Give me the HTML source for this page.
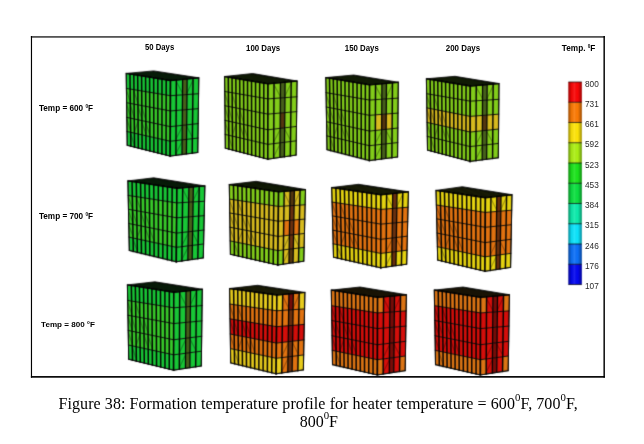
<!DOCTYPE html>
<html lang="en">
<head>
<meta charset="utf-8">
<title>Figure 38: Formation temperature profile</title>
<style>
html,body{margin:0;padding:0;background:#fff;width:644px;height:444px;overflow:hidden}
svg text{white-space:pre}
</style>
</head>
<body>
<svg width="644" height="444" viewBox="0 0 644 444" style="position:absolute;left:0;top:0;display:block">
<defs><filter id="bl" filterUnits="userSpaceOnUse" x="0" y="0" width="644" height="444" color-interpolation-filters="sRGB"><feConvolveMatrix order="3" kernelMatrix="1 5 1 5 25 5 1 5 1" edgeMode="duplicate" preserveAlpha="false"/></filter>
<linearGradient id="sh" x1="0" x2="1" y1="0" y2="0"><stop offset="0" stop-color="#000" stop-opacity="0.42"/><stop offset="0.22" stop-color="#000" stop-opacity="0.06"/><stop offset="0.45" stop-color="#fff" stop-opacity="0.10"/><stop offset="0.7" stop-color="#000" stop-opacity="0.0"/><stop offset="1" stop-color="#000" stop-opacity="0.38"/></linearGradient>
</defs>
<rect x="0" y="0" width="644" height="444" fill="#fff"/>
<rect x="30.9" y="36.0" width="573.95" height="1.8" fill="#555"/>
<rect x="30.9" y="36.0" width="1.15" height="341.7" fill="#000"/>
<rect x="603.45" y="36.0" width="1.45" height="341.7" fill="#000"/>
<rect x="30.9" y="376.05" width="574" height="1.65" fill="#000"/>
<g filter="url(#bl)">
<polygon points="126.20,73.40 153.70,70.90 198.80,77.80 170.50,80.60" fill="#060a04"/>
<path d="M131.52 73.43L152.45 71.52" stroke="#18c636" stroke-width="0.8" stroke-opacity="0.12"/>
<path d="M135.55 74.08L156.54 72.15" stroke="#18c636" stroke-width="0.8" stroke-opacity="0.12"/>
<path d="M139.59 74.73L160.63 72.78" stroke="#18c636" stroke-width="0.8" stroke-opacity="0.12"/>
<path d="M143.63 75.38L164.72 73.41" stroke="#18c636" stroke-width="0.8" stroke-opacity="0.12"/>
<path d="M147.66 76.03L168.81 74.04" stroke="#18c636" stroke-width="0.8" stroke-opacity="0.12"/>
<path d="M151.70 76.68L172.90 74.67" stroke="#18c636" stroke-width="0.8" stroke-opacity="0.12"/>
<path d="M155.73 77.33L176.99 75.30" stroke="#18c636" stroke-width="0.8" stroke-opacity="0.12"/>
<path d="M159.77 77.98L181.08 75.93" stroke="#18c636" stroke-width="0.8" stroke-opacity="0.12"/>
<path d="M163.81 78.64L185.18 76.56" stroke="#18c636" stroke-width="0.8" stroke-opacity="0.12"/>
<path d="M167.84 79.29L189.27 77.19" stroke="#18c636" stroke-width="0.8" stroke-opacity="0.12"/>
<path d="M171.88 79.94L193.36 77.82" stroke="#18c636" stroke-width="0.8" stroke-opacity="0.12"/>
<polygon points="126.20,73.40 129.97,74.01 130.16,89.05 126.41,88.43" fill="#18c636"/>
<polygon points="129.97,74.01 133.79,74.63 133.95,89.68 130.16,89.05" fill="#18c636"/>
<polygon points="133.79,74.63 137.67,75.26 137.80,90.32 133.95,89.68" fill="#18c636"/>
<polygon points="137.67,75.26 141.59,75.90 141.70,90.96 137.80,90.32" fill="#18c636"/>
<polygon points="141.59,75.90 145.57,76.55 145.66,91.61 141.70,90.96" fill="#18c636"/>
<polygon points="145.57,76.55 149.59,77.20 149.66,92.28 145.66,91.61" fill="#18c636"/>
<polygon points="149.59,77.20 153.67,77.87 153.71,92.95 149.66,92.28" fill="#18c636"/>
<polygon points="153.67,77.87 157.80,78.54 157.82,93.62 153.71,92.95" fill="#18c636"/>
<polygon points="157.80,78.54 161.98,79.22 161.97,94.31 157.82,93.62" fill="#18c636"/>
<polygon points="161.98,79.22 166.22,79.90 166.18,95.00 161.97,94.31" fill="#18c636"/>
<polygon points="166.22,79.90 170.50,80.60 170.44,95.70 166.18,95.00" fill="#18c636"/>
<polygon points="126.41,88.43 130.16,89.05 130.33,103.44 126.61,102.74" fill="#38ca2a"/>
<polygon points="130.16,89.05 133.95,89.68 134.11,104.15 130.33,103.44" fill="#38ca2a"/>
<polygon points="133.95,89.68 137.80,90.32 137.94,104.87 134.11,104.15" fill="#38ca2a"/>
<polygon points="137.80,90.32 141.70,90.96 141.81,105.59 137.94,104.87" fill="#38ca2a"/>
<polygon points="141.70,90.96 145.66,91.61 145.74,106.33 141.81,105.59" fill="#38ca2a"/>
<polygon points="145.66,91.61 149.66,92.28 149.72,107.08 145.74,106.33" fill="#38ca2a"/>
<polygon points="149.66,92.28 153.71,92.95 153.75,107.84 149.72,107.08" fill="#38ca2a"/>
<polygon points="153.71,92.95 157.82,93.62 157.83,108.60 153.75,107.84" fill="#38ca2a"/>
<polygon points="157.82,93.62 161.97,94.31 161.96,109.38 157.83,108.60" fill="#38ca2a"/>
<polygon points="161.97,94.31 166.18,95.00 166.15,110.16 161.96,109.38" fill="#38ca2a"/>
<polygon points="166.18,95.00 170.44,95.70 170.38,110.95 166.15,110.16" fill="#38ca2a"/>
<polygon points="126.61,102.74 130.33,103.44 130.52,118.19 126.81,117.40" fill="#38ca2a"/>
<polygon points="130.33,103.44 134.11,104.15 134.27,118.99 130.52,118.19" fill="#38ca2a"/>
<polygon points="134.11,104.15 137.94,104.87 138.07,119.80 134.27,118.99" fill="#38ca2a"/>
<polygon points="137.94,104.87 141.81,105.59 141.93,120.62 138.07,119.80" fill="#38ca2a"/>
<polygon points="141.81,105.59 145.74,106.33 145.83,121.45 141.93,120.62" fill="#38ca2a"/>
<polygon points="145.74,106.33 149.72,107.08 149.79,122.29 145.83,121.45" fill="#38ca2a"/>
<polygon points="149.72,107.08 153.75,107.84 153.79,123.14 149.79,122.29" fill="#38ca2a"/>
<polygon points="153.75,107.84 157.83,108.60 157.85,124.00 153.79,123.14" fill="#38ca2a"/>
<polygon points="157.83,108.60 161.96,109.38 161.95,124.88 157.85,124.00" fill="#38ca2a"/>
<polygon points="161.96,109.38 166.15,110.16 166.11,125.76 161.95,124.88" fill="#38ca2a"/>
<polygon points="166.15,110.16 170.38,110.95 170.32,126.66 166.11,125.76" fill="#38ca2a"/>
<polygon points="126.81,117.40 130.52,118.19 130.69,132.32 127.01,131.50" fill="#38ca2a"/>
<polygon points="130.52,118.19 134.27,118.99 134.42,133.17 130.69,132.32" fill="#38ca2a"/>
<polygon points="134.27,118.99 138.07,119.80 138.20,134.02 134.42,133.17" fill="#38ca2a"/>
<polygon points="138.07,119.80 141.93,120.62 142.03,134.88 138.20,134.02" fill="#38ca2a"/>
<polygon points="141.93,120.62 145.83,121.45 145.92,135.75 142.03,134.88" fill="#38ca2a"/>
<polygon points="145.83,121.45 149.79,122.29 149.85,136.64 145.92,135.75" fill="#38ca2a"/>
<polygon points="149.79,122.29 153.79,123.14 153.83,137.53 149.85,136.64" fill="#38ca2a"/>
<polygon points="153.79,123.14 157.85,124.00 157.86,138.44 153.83,137.53" fill="#38ca2a"/>
<polygon points="157.85,124.00 161.95,124.88 161.94,139.36 157.86,138.44" fill="#38ca2a"/>
<polygon points="161.95,124.88 166.11,125.76 166.08,140.29 161.94,139.36" fill="#38ca2a"/>
<polygon points="166.11,125.76 170.32,126.66 170.26,141.23 166.08,140.29" fill="#38ca2a"/>
<polygon points="127.01,131.50 130.69,132.32 130.86,146.22 127.20,145.30" fill="#18c636"/>
<polygon points="130.69,132.32 134.42,133.17 134.57,147.15 130.86,146.22" fill="#18c636"/>
<polygon points="134.42,133.17 138.20,134.02 138.33,148.10 134.57,147.15" fill="#18c636"/>
<polygon points="138.20,134.02 142.03,134.88 142.14,149.05 138.33,148.10" fill="#18c636"/>
<polygon points="142.03,134.88 145.92,135.75 146.00,150.02 142.14,149.05" fill="#18c636"/>
<polygon points="145.92,135.75 149.85,136.64 149.91,151.00 146.00,150.02" fill="#18c636"/>
<polygon points="149.85,136.64 153.83,137.53 153.87,152.00 149.91,151.00" fill="#18c636"/>
<polygon points="153.83,137.53 157.86,138.44 157.88,153.00 153.87,152.00" fill="#18c636"/>
<polygon points="157.86,138.44 161.94,139.36 161.93,154.02 157.88,153.00" fill="#18c636"/>
<polygon points="161.94,139.36 166.08,140.29 166.04,155.06 161.93,154.02" fill="#18c636"/>
<polygon points="166.08,140.29 170.26,141.23 170.20,156.10 166.04,155.06" fill="#18c636"/>
<path d="M126.20 73.40L127.20 145.30" stroke="#000" stroke-width="1.00" fill="none" stroke-linecap="square"/>
<path d="M129.97 74.01L130.86 146.22M133.79 74.63L134.57 147.15M137.67 75.26L138.33 148.10M141.59 75.90L142.14 149.05M145.57 76.55L146.00 150.02M149.59 77.20L149.91 151.00M153.67 77.87L153.87 152.00M157.80 78.54L157.88 153.00M161.98 79.22L161.93 154.02M166.22 79.90L166.04 155.06M170.50 80.60L170.20 156.10" stroke="#000" stroke-width="1.50" fill="none" stroke-linecap="square"/>
<path d="M126.20 73.40L170.50 80.60M126.41 88.43L170.44 95.70M126.61 102.74L170.38 110.95M126.81 117.40L170.32 126.66M127.01 131.50L170.26 141.23M127.20 145.30L170.20 156.10" stroke="#000" stroke-width="0.90" fill="none" stroke-linecap="square"/>
<polygon points="170.50,80.60 176.36,80.02 176.27,95.29 170.44,95.70" fill="#18c636"/>
<polygon points="176.36,80.02 182.61,79.40 182.49,94.85 176.27,95.29" fill="#18c636"/>
<polygon points="182.61,79.40 187.14,78.95 186.99,94.53 182.49,94.85" fill="#46601a"/>
<polygon points="187.14,78.95 193.06,78.37 192.87,94.12 186.99,94.53" fill="#18c636"/>
<polygon points="193.06,78.37 198.80,77.80 198.59,93.71 192.87,94.12" fill="#18c636"/>
<polygon points="170.44,95.70 176.27,95.29 176.18,110.48 170.38,110.95" fill="#18c636"/>
<polygon points="176.27,95.29 182.49,94.85 182.37,109.97 176.18,110.48" fill="#18c636"/>
<polygon points="182.49,94.85 186.99,94.53 186.85,109.60 182.37,109.97" fill="#46601a"/>
<polygon points="186.99,94.53 192.87,94.12 192.70,109.12 186.85,109.60" fill="#18c636"/>
<polygon points="192.87,94.12 198.59,93.71 198.39,108.65 192.70,109.12" fill="#18c636"/>
<polygon points="170.38,110.95 176.18,110.48 176.09,126.02 170.32,126.66" fill="#18c636"/>
<polygon points="176.18,110.48 182.37,109.97 182.25,125.34 176.09,126.02" fill="#18c636"/>
<polygon points="182.37,109.97 186.85,109.60 186.71,124.85 182.25,125.34" fill="#46601a"/>
<polygon points="186.85,109.60 192.70,109.12 192.53,124.21 186.71,124.85" fill="#18c636"/>
<polygon points="192.70,109.12 198.39,108.65 198.19,123.59 192.53,124.21" fill="#18c636"/>
<polygon points="170.32,126.66 176.09,126.02 176.00,140.58 170.26,141.23" fill="#18c636"/>
<polygon points="176.09,126.02 182.25,125.34 182.13,139.88 176.00,140.58" fill="#18c636"/>
<polygon points="182.25,125.34 186.71,124.85 186.57,139.38 182.13,139.88" fill="#46601a"/>
<polygon points="186.71,124.85 192.53,124.21 192.36,138.72 186.57,139.38" fill="#18c636"/>
<polygon points="192.53,124.21 198.19,123.59 197.99,138.08 192.36,138.72" fill="#18c636"/>
<polygon points="170.26,141.23 176.00,140.58 175.91,155.35 170.20,156.10" fill="#18c636"/>
<polygon points="176.00,140.58 182.13,139.88 182.01,154.56 175.91,155.35" fill="#18c636"/>
<polygon points="182.13,139.88 186.57,139.38 186.43,153.98 182.01,154.56" fill="#46601a"/>
<polygon points="186.57,139.38 192.36,138.72 192.20,153.23 186.43,153.98" fill="#18c636"/>
<polygon points="192.36,138.72 197.99,138.08 197.80,152.50 192.20,153.23" fill="#18c636"/>
<path d="M170.50 80.60L170.20 156.10" stroke="#000" stroke-width="1.50" fill="none" stroke-linecap="square"/>
<path d="M176.36 80.02L175.91 155.35M193.06 78.37L192.20 153.23" stroke="#000" stroke-width="1.45" fill="none" stroke-linecap="square"/>
<path d="M182.61 79.40L182.01 154.56M187.14 78.95L186.43 153.98" stroke="#000" stroke-width="1.25" fill="none" stroke-linecap="square"/>
<path d="M198.80 77.80L197.80 152.50" stroke="#000" stroke-width="1.00" fill="none" stroke-linecap="square"/>
<path d="M170.50 80.60L198.80 77.80M170.44 95.70L198.59 93.71M170.38 110.95L198.39 108.65M170.32 126.66L198.19 123.59M170.26 141.23L197.99 138.08M170.20 156.10L197.80 152.50" stroke="#000" stroke-width="0.90" fill="none" stroke-linecap="square"/>
<path d="M126.43 89.84L130.32 102.01M133.97 91.11L137.92 103.43M126.63 104.15L130.50 116.77M130.35 104.85L134.25 117.56M137.95 106.30L141.92 119.17M141.82 107.04L145.82 120.00M126.83 118.86L130.67 130.86M134.40 131.70L138.09 121.27M141.94 122.10L145.91 134.27M145.84 122.93L149.84 135.15M130.71 133.74L134.56 145.73" stroke="#000" stroke-opacity="0.3" stroke-width="1.2" fill="none"/>
<path d="M176.35 81.55L182.50 93.31M187.01 92.98L193.04 79.94M176.01 139.07L182.23 126.85M186.69 126.36L192.38 137.22M175.92 153.85L182.12 141.37" stroke="#000" stroke-opacity="0.3" stroke-width="1.1" fill="none"/>
<path d="M126.20 73.50L170.50 80.70L198.80 77.90" stroke="#000" stroke-width="1.2" fill="none" stroke-linejoin="round"/>
<polygon points="126.20,73.40 153.70,70.90 198.80,77.80 197.80,152.50 170.20,156.10 127.20,145.30" fill="none" stroke="#000" stroke-width="0.8" stroke-linejoin="round"/>
<polygon points="224.60,76.50 252.60,73.50 297.10,81.00 268.00,83.80" fill="#060a04"/>
<path d="M229.94 76.47L251.26 74.20" stroke="#82cc1a" stroke-width="0.8" stroke-opacity="0.12"/>
<path d="M233.90 77.14L255.29 74.88" stroke="#82cc1a" stroke-width="0.8" stroke-opacity="0.12"/>
<path d="M237.85 77.80L259.32 75.56" stroke="#82cc1a" stroke-width="0.8" stroke-opacity="0.12"/>
<path d="M241.81 78.47L263.36 76.24" stroke="#82cc1a" stroke-width="0.8" stroke-opacity="0.12"/>
<path d="M245.77 79.14L267.39 76.92" stroke="#82cc1a" stroke-width="0.8" stroke-opacity="0.12"/>
<path d="M249.73 79.80L271.42 77.60" stroke="#82cc1a" stroke-width="0.8" stroke-opacity="0.12"/>
<path d="M253.68 80.47L275.46 78.28" stroke="#82cc1a" stroke-width="0.8" stroke-opacity="0.12"/>
<path d="M257.64 81.13L279.49 78.96" stroke="#82cc1a" stroke-width="0.8" stroke-opacity="0.12"/>
<path d="M261.60 81.80L283.52 79.64" stroke="#82cc1a" stroke-width="0.8" stroke-opacity="0.12"/>
<path d="M265.56 82.47L287.56 80.32" stroke="#82cc1a" stroke-width="0.8" stroke-opacity="0.12"/>
<path d="M269.51 83.13L291.59 81.00" stroke="#82cc1a" stroke-width="0.8" stroke-opacity="0.12"/>
<polygon points="224.60,76.50 228.29,77.12 228.42,92.12 224.75,91.49" fill="#82cc1a"/>
<polygon points="228.29,77.12 232.04,77.75 232.15,92.76 228.42,92.12" fill="#82cc1a"/>
<polygon points="232.04,77.75 235.83,78.39 235.93,93.41 232.15,92.76" fill="#82cc1a"/>
<polygon points="235.83,78.39 239.68,79.04 239.76,94.06 235.93,93.41" fill="#82cc1a"/>
<polygon points="239.68,79.04 243.57,79.69 243.64,94.73 239.76,94.06" fill="#82cc1a"/>
<polygon points="243.57,79.69 247.52,80.36 247.57,95.40 243.64,94.73" fill="#82cc1a"/>
<polygon points="247.52,80.36 251.52,81.03 251.54,96.08 247.57,95.40" fill="#82cc1a"/>
<polygon points="251.52,81.03 255.56,81.71 255.57,96.77 251.54,96.08" fill="#82cc1a"/>
<polygon points="255.56,81.71 259.66,82.40 259.65,97.46 255.57,96.77" fill="#82cc1a"/>
<polygon points="259.66,82.40 263.80,83.09 263.78,98.17 259.65,97.46" fill="#82cc1a"/>
<polygon points="263.80,83.09 268.00,83.80 267.96,98.88 263.78,98.17" fill="#82cc1a"/>
<polygon points="224.75,91.49 228.42,92.12 228.55,106.47 224.89,105.75" fill="#82cc1a"/>
<polygon points="228.42,92.12 232.15,92.76 232.26,107.19 228.55,106.47" fill="#82cc1a"/>
<polygon points="232.15,92.76 235.93,93.41 236.02,107.92 232.26,107.19" fill="#82cc1a"/>
<polygon points="235.93,93.41 239.76,94.06 239.84,108.66 236.02,107.92" fill="#82cc1a"/>
<polygon points="239.76,94.06 243.64,94.73 243.70,109.41 239.84,108.66" fill="#82cc1a"/>
<polygon points="243.64,94.73 247.57,95.40 247.61,110.17 243.70,109.41" fill="#82cc1a"/>
<polygon points="247.57,95.40 251.54,96.08 251.57,110.94 247.61,110.17" fill="#82cc1a"/>
<polygon points="251.54,96.08 255.57,96.77 255.58,111.72 251.57,110.94" fill="#82cc1a"/>
<polygon points="255.57,96.77 259.65,97.46 259.65,112.51 255.58,111.72" fill="#82cc1a"/>
<polygon points="259.65,97.46 263.78,98.17 263.76,113.30 259.65,112.51" fill="#82cc1a"/>
<polygon points="263.78,98.17 267.96,98.88 267.92,114.11 263.76,113.30" fill="#82cc1a"/>
<polygon points="224.89,105.75 228.55,106.47 228.68,121.18 225.03,120.38" fill="#82cc1a"/>
<polygon points="228.55,106.47 232.26,107.19 232.37,121.99 228.68,121.18" fill="#82cc1a"/>
<polygon points="232.26,107.19 236.02,107.92 236.12,122.82 232.37,121.99" fill="#82cc1a"/>
<polygon points="236.02,107.92 239.84,108.66 239.92,123.65 236.12,122.82" fill="#82cc1a"/>
<polygon points="239.84,108.66 243.70,109.41 243.76,124.50 239.92,123.65" fill="#82cc1a"/>
<polygon points="243.70,109.41 247.61,110.17 247.66,125.35 243.76,124.50" fill="#82cc1a"/>
<polygon points="247.61,110.17 251.57,110.94 251.60,126.22 247.66,125.35" fill="#82cc1a"/>
<polygon points="251.57,110.94 255.58,111.72 255.60,127.10 251.60,126.22" fill="#82cc1a"/>
<polygon points="255.58,111.72 259.65,112.51 259.64,127.99 255.60,127.10" fill="#82cc1a"/>
<polygon points="259.65,112.51 263.76,113.30 263.73,128.88 259.64,127.99" fill="#82cc1a"/>
<polygon points="263.76,113.30 267.92,114.11 267.88,129.79 263.73,128.88" fill="#82cc1a"/>
<polygon points="225.03,120.38 228.68,121.18 228.80,135.28 225.17,134.43" fill="#82cc1a"/>
<polygon points="228.68,121.18 232.37,121.99 232.48,136.14 228.80,135.28" fill="#82cc1a"/>
<polygon points="232.37,121.99 236.12,122.82 236.21,137.00 232.48,136.14" fill="#82cc1a"/>
<polygon points="236.12,122.82 239.92,123.65 239.99,137.88 236.21,137.00" fill="#82cc1a"/>
<polygon points="239.92,123.65 243.76,124.50 243.82,138.77 239.99,137.88" fill="#82cc1a"/>
<polygon points="243.76,124.50 247.66,125.35 247.70,139.67 243.82,138.77" fill="#82cc1a"/>
<polygon points="247.66,125.35 251.60,126.22 251.63,140.59 247.70,139.67" fill="#82cc1a"/>
<polygon points="251.60,126.22 255.60,127.10 255.61,141.51 251.63,140.59" fill="#82cc1a"/>
<polygon points="255.60,127.10 259.64,127.99 259.64,142.44 255.61,141.51" fill="#82cc1a"/>
<polygon points="259.64,127.99 263.73,128.88 263.71,143.39 259.64,142.44" fill="#82cc1a"/>
<polygon points="263.73,128.88 267.88,129.79 267.84,144.35 263.71,143.39" fill="#82cc1a"/>
<polygon points="225.17,134.43 228.80,135.28 228.92,149.14 225.30,148.20" fill="#82cc1a"/>
<polygon points="228.80,135.28 232.48,136.14 232.58,150.09 228.92,149.14" fill="#82cc1a"/>
<polygon points="232.48,136.14 236.21,137.00 236.30,151.05 232.58,150.09" fill="#82cc1a"/>
<polygon points="236.21,137.00 239.99,137.88 240.07,152.02 236.30,151.05" fill="#82cc1a"/>
<polygon points="239.99,137.88 243.82,138.77 243.88,153.01 240.07,152.02" fill="#82cc1a"/>
<polygon points="243.82,138.77 247.70,139.67 247.74,154.01 243.88,153.01" fill="#82cc1a"/>
<polygon points="247.70,139.67 251.63,140.59 251.66,155.02 247.74,154.01" fill="#82cc1a"/>
<polygon points="251.63,140.59 255.61,141.51 255.62,156.05 251.66,155.02" fill="#82cc1a"/>
<polygon points="255.61,141.51 259.64,142.44 259.63,157.09 255.62,156.05" fill="#82cc1a"/>
<polygon points="259.64,142.44 263.71,143.39 263.69,158.14 259.63,157.09" fill="#82cc1a"/>
<polygon points="263.71,143.39 267.84,144.35 267.80,159.20 263.69,158.14" fill="#82cc1a"/>
<path d="M224.60 76.50L225.30 148.20" stroke="#000" stroke-width="1.00" fill="none" stroke-linecap="square"/>
<path d="M228.29 77.12L228.92 149.14M232.04 77.75L232.58 150.09M235.83 78.39L236.30 151.05M239.68 79.04L240.07 152.02M243.57 79.69L243.88 153.01M247.52 80.36L247.74 154.01M251.52 81.03L251.66 155.02M255.56 81.71L255.62 156.05M259.66 82.40L259.63 157.09M263.80 83.09L263.69 158.14M268.00 83.80L267.80 159.20" stroke="#000" stroke-width="1.50" fill="none" stroke-linecap="square"/>
<path d="M224.60 76.50L268.00 83.80M224.75 91.49L267.96 98.88M224.89 105.75L267.92 114.11M225.03 120.38L267.88 129.79M225.17 134.43L267.84 144.35M225.30 148.20L267.80 159.20" stroke="#000" stroke-width="0.90" fill="none" stroke-linecap="square"/>
<polygon points="268.00,83.80 274.02,83.22 273.95,98.45 267.96,98.88" fill="#82cc1a"/>
<polygon points="274.02,83.22 280.45,82.60 280.34,97.99 273.95,98.45" fill="#82cc1a"/>
<polygon points="280.45,82.60 285.11,82.15 284.97,97.65 280.34,97.99" fill="#46601a"/>
<polygon points="285.11,82.15 291.19,81.57 291.02,97.21 284.97,97.65" fill="#82cc1a"/>
<polygon points="291.19,81.57 297.10,81.00 296.89,96.78 291.02,97.21" fill="#82cc1a"/>
<polygon points="267.96,98.88 273.95,98.45 273.88,113.59 267.92,114.11" fill="#82cc1a"/>
<polygon points="273.95,98.45 280.34,97.99 280.23,113.04 273.88,113.59" fill="#82cc1a"/>
<polygon points="280.34,97.99 284.97,97.65 284.84,112.64 280.23,113.04" fill="#46601a"/>
<polygon points="284.97,97.65 291.02,97.21 290.85,112.11 284.84,112.64" fill="#82cc1a"/>
<polygon points="291.02,97.21 296.89,96.78 296.69,111.60 290.85,112.11" fill="#82cc1a"/>
<polygon points="267.92,114.11 273.88,113.59 273.80,129.10 267.88,129.79" fill="#82cc1a"/>
<polygon points="273.88,113.59 280.23,113.04 280.12,128.35 273.80,129.10" fill="#82cc1a"/>
<polygon points="280.23,113.04 284.84,112.64 284.70,127.81 280.12,128.35" fill="#54360e"/>
<polygon points="284.84,112.64 290.85,112.11 290.68,127.11 284.70,127.81" fill="#82cc1a"/>
<polygon points="290.85,112.11 296.69,111.60 296.49,126.42 290.68,127.11" fill="#82cc1a"/>
<polygon points="267.88,129.79 273.80,129.10 273.73,143.61 267.84,144.35" fill="#82cc1a"/>
<polygon points="273.80,129.10 280.12,128.35 280.02,142.83 273.73,143.61" fill="#82cc1a"/>
<polygon points="280.12,128.35 284.70,127.81 284.57,142.26 280.02,142.83" fill="#46601a"/>
<polygon points="284.70,127.81 290.68,127.11 290.52,141.52 284.57,142.26" fill="#82cc1a"/>
<polygon points="290.68,127.11 296.49,126.42 296.29,140.80 290.52,141.52" fill="#82cc1a"/>
<polygon points="267.84,144.35 273.73,143.61 273.66,158.35 267.80,159.20" fill="#82cc1a"/>
<polygon points="273.73,143.61 280.02,142.83 279.91,157.45 273.66,158.35" fill="#82cc1a"/>
<polygon points="280.02,142.83 284.57,142.26 284.44,156.79 279.91,157.45" fill="#46601a"/>
<polygon points="284.57,142.26 290.52,141.52 290.36,155.93 284.44,156.79" fill="#82cc1a"/>
<polygon points="290.52,141.52 296.29,140.80 296.10,155.10 290.36,155.93" fill="#82cc1a"/>
<path d="M268.00 83.80L267.80 159.20" stroke="#000" stroke-width="1.50" fill="none" stroke-linecap="square"/>
<path d="M274.02 83.22L273.66 158.35M291.19 81.57L290.36 155.93" stroke="#000" stroke-width="1.45" fill="none" stroke-linecap="square"/>
<path d="M280.45 82.60L279.91 157.45M285.11 82.15L284.44 156.79" stroke="#000" stroke-width="1.25" fill="none" stroke-linecap="square"/>
<path d="M297.10 81.00L296.10 155.10" stroke="#000" stroke-width="1.00" fill="none" stroke-linecap="square"/>
<path d="M268.00 83.80L297.10 81.00M267.96 98.88L296.89 96.78M267.92 114.11L296.69 111.60M267.88 129.79L296.49 126.42M267.84 144.35L296.29 140.80M267.80 159.20L296.10 155.10" stroke="#000" stroke-width="0.90" fill="none" stroke-linecap="square"/>
<path d="M224.76 92.90L228.54 105.05M232.16 94.19L236.01 106.48M224.90 107.16L228.66 119.77M228.56 107.88L232.36 120.57M236.03 109.35L239.91 122.21M239.84 110.10L243.76 123.05M225.04 121.84L228.79 133.82M232.47 134.67L236.13 124.29M239.92 125.13L243.81 137.29M243.77 125.98L247.70 138.19M228.81 136.69L232.57 148.67" stroke="#000" stroke-opacity="0.3" stroke-width="1.2" fill="none"/>
<path d="M274.02 84.74L280.35 96.45M284.99 96.10L291.18 83.13M273.74 142.11L280.11 129.85M284.69 129.31L290.53 140.03M273.67 156.85L280.01 144.31" stroke="#000" stroke-opacity="0.3" stroke-width="1.1" fill="none"/>
<path d="M224.60 76.60L268.00 83.90L297.10 81.10" stroke="#000" stroke-width="1.2" fill="none" stroke-linejoin="round"/>
<polygon points="224.60,76.50 252.60,73.50 297.10,81.00 296.10,155.10 267.80,159.20 225.30,148.20" fill="none" stroke="#000" stroke-width="0.8" stroke-linejoin="round"/>
<polygon points="325.80,77.60 353.70,75.00 398.30,82.20 369.60,84.90" fill="#060a04"/>
<path d="M331.14 77.62L352.37 75.64" stroke="#82cc1a" stroke-width="0.8" stroke-opacity="0.12"/>
<path d="M335.13 78.28L356.42 76.30" stroke="#82cc1a" stroke-width="0.8" stroke-opacity="0.12"/>
<path d="M339.12 78.94L360.47 76.95" stroke="#82cc1a" stroke-width="0.8" stroke-opacity="0.12"/>
<path d="M343.11 79.61L364.51 77.61" stroke="#82cc1a" stroke-width="0.8" stroke-opacity="0.12"/>
<path d="M347.11 80.27L368.56 78.26" stroke="#82cc1a" stroke-width="0.8" stroke-opacity="0.12"/>
<path d="M351.10 80.93L372.60 78.92" stroke="#82cc1a" stroke-width="0.8" stroke-opacity="0.12"/>
<path d="M355.09 81.59L376.65 79.57" stroke="#82cc1a" stroke-width="0.8" stroke-opacity="0.12"/>
<path d="M359.08 82.26L380.70 80.23" stroke="#82cc1a" stroke-width="0.8" stroke-opacity="0.12"/>
<path d="M363.07 82.92L384.74 80.88" stroke="#82cc1a" stroke-width="0.8" stroke-opacity="0.12"/>
<path d="M367.06 83.58L388.79 81.54" stroke="#82cc1a" stroke-width="0.8" stroke-opacity="0.12"/>
<path d="M371.05 84.24L392.83 82.20" stroke="#82cc1a" stroke-width="0.8" stroke-opacity="0.12"/>
<polygon points="325.80,77.60 329.53,78.22 329.75,93.30 326.05,92.67" fill="#82cc1a"/>
<polygon points="329.53,78.22 333.31,78.85 333.51,93.94 329.75,93.30" fill="#82cc1a"/>
<polygon points="333.31,78.85 337.14,79.49 337.31,94.58 333.51,93.94" fill="#82cc1a"/>
<polygon points="337.14,79.49 341.02,80.14 341.16,95.24 337.31,94.58" fill="#82cc1a"/>
<polygon points="341.02,80.14 344.95,80.79 345.07,95.90 341.16,95.24" fill="#82cc1a"/>
<polygon points="344.95,80.79 348.93,81.46 349.02,96.57 345.07,95.90" fill="#82cc1a"/>
<polygon points="348.93,81.46 352.96,82.13 353.03,97.25 349.02,96.57" fill="#82cc1a"/>
<polygon points="352.96,82.13 357.05,82.81 357.09,97.93 353.03,97.25" fill="#82cc1a"/>
<polygon points="357.05,82.81 361.18,83.50 361.19,98.63 357.09,97.93" fill="#82cc1a"/>
<polygon points="361.18,83.50 365.36,84.19 365.35,99.33 361.19,98.63" fill="#82cc1a"/>
<polygon points="365.36,84.19 369.60,84.90 369.56,100.04 365.35,99.33" fill="#82cc1a"/>
<polygon points="326.05,92.67 329.75,93.30 329.97,107.73 326.29,107.02" fill="#82cc1a"/>
<polygon points="329.75,93.30 333.51,93.94 333.70,108.45 329.97,107.73" fill="#82cc1a"/>
<polygon points="333.51,93.94 337.31,94.58 337.48,109.17 333.70,108.45" fill="#82cc1a"/>
<polygon points="337.31,94.58 341.16,95.24 341.31,109.91 337.48,109.17" fill="#82cc1a"/>
<polygon points="341.16,95.24 345.07,95.90 345.19,110.66 341.31,109.91" fill="#82cc1a"/>
<polygon points="345.07,95.90 349.02,96.57 349.12,111.41 345.19,110.66" fill="#82cc1a"/>
<polygon points="349.02,96.57 353.03,97.25 353.10,112.18 349.12,111.41" fill="#82cc1a"/>
<polygon points="353.03,97.25 357.09,97.93 357.13,112.95 353.10,112.18" fill="#82cc1a"/>
<polygon points="357.09,97.93 361.19,98.63 361.21,113.74 357.13,112.95" fill="#82cc1a"/>
<polygon points="361.19,98.63 365.35,99.33 365.34,114.53 361.21,113.74" fill="#82cc1a"/>
<polygon points="365.35,99.33 369.56,100.04 369.52,115.33 365.34,114.53" fill="#82cc1a"/>
<polygon points="326.29,107.02 329.97,107.73 330.19,122.52 326.53,121.73" fill="#82cc1a"/>
<polygon points="329.97,107.73 333.70,108.45 333.89,123.33 330.19,122.52" fill="#82cc1a"/>
<polygon points="333.70,108.45 337.48,109.17 337.65,124.15 333.89,123.33" fill="#82cc1a"/>
<polygon points="337.48,109.17 341.31,109.91 341.45,124.98 337.65,124.15" fill="#82cc1a"/>
<polygon points="341.31,109.91 345.19,110.66 345.31,125.82 341.45,124.98" fill="#82cc1a"/>
<polygon points="345.19,110.66 349.12,111.41 349.21,126.67 345.31,125.82" fill="#82cc1a"/>
<polygon points="349.12,111.41 353.10,112.18 353.17,127.53 349.21,126.67" fill="#82cc1a"/>
<polygon points="353.10,112.18 357.13,112.95 357.17,128.40 353.17,127.53" fill="#82cc1a"/>
<polygon points="357.13,112.95 361.21,113.74 361.22,129.28 357.17,128.40" fill="#82cc1a"/>
<polygon points="361.21,113.74 365.34,114.53 365.33,130.17 361.22,129.28" fill="#82cc1a"/>
<polygon points="365.34,114.53 369.52,115.33 369.48,131.08 365.33,130.17" fill="#82cc1a"/>
<polygon points="326.53,121.73 330.19,122.52 330.40,136.69 326.77,135.86" fill="#82cc1a"/>
<polygon points="330.19,122.52 333.89,123.33 334.08,137.54 330.40,136.69" fill="#82cc1a"/>
<polygon points="333.89,123.33 337.65,124.15 337.81,138.40 334.08,137.54" fill="#82cc1a"/>
<polygon points="337.65,124.15 341.45,124.98 341.59,139.28 337.81,138.40" fill="#82cc1a"/>
<polygon points="341.45,124.98 345.31,125.82 345.42,140.16 341.59,139.28" fill="#82cc1a"/>
<polygon points="345.31,125.82 349.21,126.67 349.30,141.05 345.42,140.16" fill="#82cc1a"/>
<polygon points="349.21,126.67 353.17,127.53 353.23,141.96 349.30,141.05" fill="#82cc1a"/>
<polygon points="353.17,127.53 357.17,128.40 357.21,142.87 353.23,141.96" fill="#82cc1a"/>
<polygon points="357.17,128.40 361.22,129.28 361.24,143.80 357.21,142.87" fill="#82cc1a"/>
<polygon points="361.22,129.28 365.33,130.17 365.31,144.74 361.24,143.80" fill="#82cc1a"/>
<polygon points="365.33,130.17 369.48,131.08 369.44,145.69 365.31,144.74" fill="#82cc1a"/>
<polygon points="326.77,135.86 330.40,136.69 330.61,150.63 327.00,149.70" fill="#82cc1a"/>
<polygon points="330.40,136.69 334.08,137.54 334.27,151.57 330.61,150.63" fill="#82cc1a"/>
<polygon points="334.08,137.54 337.81,138.40 337.97,152.52 334.27,151.57" fill="#82cc1a"/>
<polygon points="337.81,138.40 341.59,139.28 341.73,153.49 337.97,152.52" fill="#82cc1a"/>
<polygon points="341.59,139.28 345.42,140.16 345.54,154.47 341.73,153.49" fill="#82cc1a"/>
<polygon points="345.42,140.16 349.30,141.05 349.39,155.46 345.54,154.47" fill="#82cc1a"/>
<polygon points="349.30,141.05 353.23,141.96 353.30,156.46 349.39,155.46" fill="#82cc1a"/>
<polygon points="353.23,141.96 357.21,142.87 357.25,157.48 353.30,156.46" fill="#82cc1a"/>
<polygon points="357.21,142.87 361.24,143.80 361.25,158.50 357.25,157.48" fill="#82cc1a"/>
<polygon points="361.24,143.80 365.31,144.74 365.30,159.55 361.25,158.50" fill="#82cc1a"/>
<polygon points="365.31,144.74 369.44,145.69 369.40,160.60 365.30,159.55" fill="#82cc1a"/>
<path d="M325.80 77.60L327.00 149.70" stroke="#000" stroke-width="1.00" fill="none" stroke-linecap="square"/>
<path d="M329.53 78.22L330.61 150.63M333.31 78.85L334.27 151.57M337.14 79.49L337.97 152.52M341.02 80.14L341.73 153.49M344.95 80.79L345.54 154.47M348.93 81.46L349.39 155.46M352.96 82.13L353.30 156.46M357.05 82.81L357.25 157.48M361.18 83.50L361.25 158.50M365.36 84.19L365.30 159.55M369.60 84.90L369.40 160.60" stroke="#000" stroke-width="1.50" fill="none" stroke-linecap="square"/>
<path d="M325.80 77.60L369.60 84.90M326.05 92.67L369.56 100.04M326.29 107.02L369.52 115.33M326.53 121.73L369.48 131.08M326.77 135.86L369.44 145.69M327.00 149.70L369.40 160.60" stroke="#000" stroke-width="0.90" fill="none" stroke-linecap="square"/>
<polygon points="369.60,84.90 375.54,84.34 375.48,99.65 369.56,100.04" fill="#82cc1a"/>
<polygon points="375.54,84.34 381.88,83.74 381.80,99.23 375.48,99.65" fill="#82cc1a"/>
<polygon points="381.88,83.74 386.48,83.31 386.37,98.92 381.80,99.23" fill="#46601a"/>
<polygon points="386.48,83.31 392.47,82.75 392.35,98.52 386.37,98.92" fill="#82cc1a"/>
<polygon points="392.47,82.75 398.30,82.20 398.15,98.13 392.35,98.52" fill="#82cc1a"/>
<polygon points="369.56,100.04 375.48,99.65 375.42,114.87 369.52,115.33" fill="#82cc1a"/>
<polygon points="375.48,99.65 381.80,99.23 381.72,114.38 375.42,114.87" fill="#82cc1a"/>
<polygon points="381.80,99.23 386.37,98.92 386.27,114.02 381.72,114.38" fill="#46601a"/>
<polygon points="386.37,98.92 392.35,98.52 392.23,113.55 386.27,114.02" fill="#82cc1a"/>
<polygon points="392.35,98.52 398.15,98.13 398.01,113.09 392.23,113.55" fill="#82cc1a"/>
<polygon points="369.52,115.33 375.42,114.87 375.36,130.45 369.48,131.08" fill="#82cc1a"/>
<polygon points="375.42,114.87 381.72,114.38 381.63,129.78 375.36,130.45" fill="#d6ba1e"/>
<polygon points="381.72,114.38 386.27,114.02 386.17,129.30 381.63,129.78" fill="#54360e"/>
<polygon points="386.27,114.02 392.23,113.55 392.11,128.67 386.17,129.30" fill="#d6ba1e"/>
<polygon points="392.23,113.55 398.01,113.09 397.87,128.05 392.11,128.67" fill="#82cc1a"/>
<polygon points="369.48,131.08 375.36,130.45 375.30,145.04 369.44,145.69" fill="#82cc1a"/>
<polygon points="375.36,130.45 381.63,129.78 381.55,144.35 375.30,145.04" fill="#82cc1a"/>
<polygon points="381.63,129.78 386.17,129.30 386.08,143.85 381.55,144.35" fill="#46601a"/>
<polygon points="386.17,129.30 392.11,128.67 391.99,143.20 386.08,143.85" fill="#82cc1a"/>
<polygon points="392.11,128.67 397.87,128.05 397.74,142.56 391.99,143.20" fill="#82cc1a"/>
<polygon points="369.44,145.69 375.30,145.04 375.24,159.85 369.40,160.60" fill="#82cc1a"/>
<polygon points="375.30,145.04 381.55,144.35 381.47,159.06 375.24,159.85" fill="#82cc1a"/>
<polygon points="381.55,144.35 386.08,143.85 385.98,158.48 381.47,159.06" fill="#46601a"/>
<polygon points="386.08,143.85 391.99,143.20 391.88,157.73 385.98,158.48" fill="#82cc1a"/>
<polygon points="391.99,143.20 397.74,142.56 397.60,157.00 391.88,157.73" fill="#82cc1a"/>
<path d="M369.60 84.90L369.40 160.60" stroke="#000" stroke-width="1.50" fill="none" stroke-linecap="square"/>
<path d="M375.54 84.34L375.24 159.85M392.47 82.75L391.88 157.73" stroke="#000" stroke-width="1.45" fill="none" stroke-linecap="square"/>
<path d="M381.88 83.74L381.47 159.06M386.48 83.31L385.98 158.48" stroke="#000" stroke-width="1.25" fill="none" stroke-linecap="square"/>
<path d="M398.30 82.20L397.60 157.00" stroke="#000" stroke-width="1.00" fill="none" stroke-linecap="square"/>
<path d="M369.60 84.90L398.30 82.20M369.56 100.04L398.15 98.13M369.52 115.33L398.01 113.09M369.48 131.08L397.87 128.05M369.44 145.69L397.74 142.56M369.40 160.60L397.60 157.00" stroke="#000" stroke-width="0.90" fill="none" stroke-linecap="square"/>
<path d="M326.07 94.09L329.95 106.30M333.53 95.37L337.46 107.73M326.31 108.43L330.17 121.10M329.99 109.15L333.88 121.90M337.49 110.61L341.44 123.53M341.32 111.36L345.30 124.36M326.56 123.19L330.38 135.23M334.06 136.07L337.67 125.62M341.47 126.46L345.41 138.67M345.32 127.30L349.29 139.56M330.42 138.11L334.25 150.14" stroke="#000" stroke-opacity="0.3" stroke-width="1.2" fill="none"/>
<path d="M375.53 85.87L381.81 97.68M386.38 97.36L392.46 84.33M375.30 143.53L381.62 131.29M386.16 130.81L392.00 141.69M375.24 158.35L381.54 145.84" stroke="#000" stroke-opacity="0.3" stroke-width="1.1" fill="none"/>
<path d="M325.80 77.70L369.60 85.00L398.30 82.30" stroke="#000" stroke-width="1.2" fill="none" stroke-linejoin="round"/>
<polygon points="325.80,77.60 353.70,75.00 398.30,82.20 397.60,157.00 369.40,160.60 327.00,149.70" fill="none" stroke="#000" stroke-width="0.8" stroke-linejoin="round"/>
<polygon points="426.40,78.80 455.00,76.30 499.00,83.50 470.30,86.10" fill="#060a04"/>
<path d="M431.83 78.83L453.57 76.93" stroke="#82cc1a" stroke-width="0.8" stroke-opacity="0.12"/>
<path d="M435.82 79.49L457.57 77.58" stroke="#82cc1a" stroke-width="0.8" stroke-opacity="0.12"/>
<path d="M439.81 80.16L461.57 78.24" stroke="#82cc1a" stroke-width="0.8" stroke-opacity="0.12"/>
<path d="M443.80 80.82L465.56 78.89" stroke="#82cc1a" stroke-width="0.8" stroke-opacity="0.12"/>
<path d="M447.80 81.48L469.56 79.55" stroke="#82cc1a" stroke-width="0.8" stroke-opacity="0.12"/>
<path d="M451.79 82.14L473.56 80.21" stroke="#82cc1a" stroke-width="0.8" stroke-opacity="0.12"/>
<path d="M455.78 82.81L477.56 80.86" stroke="#82cc1a" stroke-width="0.8" stroke-opacity="0.12"/>
<path d="M459.77 83.47L481.56 81.52" stroke="#82cc1a" stroke-width="0.8" stroke-opacity="0.12"/>
<path d="M463.76 84.13L485.56 82.17" stroke="#82cc1a" stroke-width="0.8" stroke-opacity="0.12"/>
<path d="M467.76 84.79L489.56 82.83" stroke="#82cc1a" stroke-width="0.8" stroke-opacity="0.12"/>
<path d="M471.75 85.46L493.56 83.48" stroke="#82cc1a" stroke-width="0.8" stroke-opacity="0.12"/>
<polygon points="426.40,78.80 430.14,79.42 430.34,94.34 426.63,93.70" fill="#82cc1a"/>
<polygon points="430.14,79.42 433.92,80.05 434.11,94.99 430.34,94.34" fill="#82cc1a"/>
<polygon points="433.92,80.05 437.76,80.69 437.92,95.64 434.11,94.99" fill="#82cc1a"/>
<polygon points="437.76,80.69 441.65,81.34 441.79,96.30 437.92,95.64" fill="#82cc1a"/>
<polygon points="441.65,81.34 445.59,81.99 445.70,96.97 441.79,96.30" fill="#82cc1a"/>
<polygon points="445.59,81.99 449.58,82.66 449.67,97.65 445.70,96.97" fill="#82cc1a"/>
<polygon points="449.58,82.66 453.63,83.33 453.69,98.34 449.67,97.65" fill="#82cc1a"/>
<polygon points="453.63,83.33 457.72,84.01 457.75,99.03 453.69,98.34" fill="#82cc1a"/>
<polygon points="457.72,84.01 461.86,84.70 461.87,99.73 457.75,99.03" fill="#82cc1a"/>
<polygon points="461.86,84.70 466.06,85.39 466.04,100.44 461.87,99.73" fill="#82cc1a"/>
<polygon points="466.06,85.39 470.30,86.10 470.26,101.16 466.04,100.44" fill="#82cc1a"/>
<polygon points="426.63,93.70 430.34,94.34 430.54,108.61 426.85,107.89" fill="#82cc1a"/>
<polygon points="430.34,94.34 434.11,94.99 434.28,109.35 430.54,108.61" fill="#82cc1a"/>
<polygon points="434.11,94.99 437.92,95.64 438.07,110.09 434.28,109.35" fill="#82cc1a"/>
<polygon points="437.92,95.64 441.79,96.30 441.92,110.84 438.07,110.09" fill="#82cc1a"/>
<polygon points="441.79,96.30 445.70,96.97 445.81,111.60 441.92,110.84" fill="#82cc1a"/>
<polygon points="445.70,96.97 449.67,97.65 449.75,112.37 445.81,111.60" fill="#82cc1a"/>
<polygon points="449.67,97.65 453.69,98.34 453.74,113.16 449.75,112.37" fill="#82cc1a"/>
<polygon points="453.69,98.34 457.75,99.03 457.79,113.94 453.74,113.16" fill="#82cc1a"/>
<polygon points="457.75,99.03 461.87,99.73 461.88,114.74 457.79,113.94" fill="#82cc1a"/>
<polygon points="461.87,99.73 466.04,100.44 466.03,115.55 461.88,114.74" fill="#82cc1a"/>
<polygon points="466.04,100.44 470.26,101.16 470.22,116.37 466.03,115.55" fill="#82cc1a"/>
<polygon points="426.85,107.89 430.54,108.61 430.74,123.25 427.07,122.44" fill="#d6ba1e"/>
<polygon points="430.54,108.61 434.28,109.35 434.46,124.08 430.74,123.25" fill="#d6ba1e"/>
<polygon points="434.28,109.35 438.07,110.09 438.23,124.92 434.46,124.08" fill="#d6ba1e"/>
<polygon points="438.07,110.09 441.92,110.84 442.05,125.77 438.23,124.92" fill="#d6ba1e"/>
<polygon points="441.92,110.84 445.81,111.60 445.92,126.63 442.05,125.77" fill="#d6ba1e"/>
<polygon points="445.81,111.60 449.75,112.37 449.84,127.51 445.92,126.63" fill="#d6ba1e"/>
<polygon points="449.75,112.37 453.74,113.16 453.80,128.39 449.84,127.51" fill="#d6ba1e"/>
<polygon points="453.74,113.16 457.79,113.94 457.82,129.28 453.80,128.39" fill="#d6ba1e"/>
<polygon points="457.79,113.94 461.88,114.74 461.89,130.19 457.82,129.28" fill="#d6ba1e"/>
<polygon points="461.88,114.74 466.03,115.55 466.01,131.11 461.89,130.19" fill="#d6ba1e"/>
<polygon points="466.03,115.55 470.22,116.37 470.18,132.03 466.01,131.11" fill="#d6ba1e"/>
<polygon points="427.07,122.44 430.74,123.25 430.94,137.28 427.29,136.41" fill="#82cc1a"/>
<polygon points="430.74,123.25 434.46,124.08 434.63,138.15 430.94,137.28" fill="#82cc1a"/>
<polygon points="434.46,124.08 438.23,124.92 438.38,139.04 434.63,138.15" fill="#82cc1a"/>
<polygon points="438.23,124.92 442.05,125.77 442.18,139.94 438.38,139.04" fill="#82cc1a"/>
<polygon points="442.05,125.77 445.92,126.63 446.02,140.86 442.18,139.94" fill="#82cc1a"/>
<polygon points="445.92,126.63 449.84,127.51 449.92,141.78 446.02,140.86" fill="#82cc1a"/>
<polygon points="449.84,127.51 453.80,128.39 453.86,142.71 449.92,141.78" fill="#82cc1a"/>
<polygon points="453.80,128.39 457.82,129.28 457.86,143.66 453.86,142.71" fill="#82cc1a"/>
<polygon points="457.82,129.28 461.89,130.19 461.90,144.62 457.86,143.66" fill="#82cc1a"/>
<polygon points="461.89,130.19 466.01,131.11 466.00,145.59 461.90,144.62" fill="#82cc1a"/>
<polygon points="466.01,131.11 470.18,132.03 470.14,146.57 466.00,145.59" fill="#82cc1a"/>
<polygon points="427.29,136.41 430.94,137.28 431.13,151.06 427.50,150.10" fill="#82cc1a"/>
<polygon points="430.94,137.28 434.63,138.15 434.80,152.04 431.13,151.06" fill="#82cc1a"/>
<polygon points="434.63,138.15 438.38,139.04 438.53,153.02 434.80,152.04" fill="#82cc1a"/>
<polygon points="438.38,139.04 442.18,139.94 442.30,154.03 438.53,153.02" fill="#82cc1a"/>
<polygon points="442.18,139.94 446.02,140.86 446.12,155.04 442.30,154.03" fill="#82cc1a"/>
<polygon points="446.02,140.86 449.92,141.78 450.00,156.07 446.12,155.04" fill="#82cc1a"/>
<polygon points="449.92,141.78 453.86,142.71 453.92,157.11 450.00,156.07" fill="#82cc1a"/>
<polygon points="453.86,142.71 457.86,143.66 457.89,158.16 453.92,157.11" fill="#82cc1a"/>
<polygon points="457.86,143.66 461.90,144.62 461.91,159.23 457.89,158.16" fill="#82cc1a"/>
<polygon points="461.90,144.62 466.00,145.59 465.98,160.31 461.91,159.23" fill="#82cc1a"/>
<polygon points="466.00,145.59 470.14,146.57 470.10,161.40 465.98,160.31" fill="#82cc1a"/>
<path d="M426.40 78.80L427.50 150.10" stroke="#000" stroke-width="1.00" fill="none" stroke-linecap="square"/>
<path d="M430.14 79.42L431.13 151.06M433.92 80.05L434.80 152.04M437.76 80.69L438.53 153.02M441.65 81.34L442.30 154.03M445.59 81.99L446.12 155.04M449.58 82.66L450.00 156.07M453.63 83.33L453.92 157.11M457.72 84.01L457.89 158.16M461.86 84.70L461.91 159.23M466.06 85.39L465.98 160.31M470.30 86.10L470.10 161.40" stroke="#000" stroke-width="1.50" fill="none" stroke-linecap="square"/>
<path d="M426.40 78.80L470.30 86.10M426.63 93.70L470.26 101.16M426.85 107.89L470.22 116.37M427.07 122.44L470.18 132.03M427.29 136.41L470.14 146.57M427.50 150.10L470.10 161.40" stroke="#000" stroke-width="0.90" fill="none" stroke-linecap="square"/>
<polygon points="470.30,86.10 476.24,85.56 476.18,100.78 470.26,101.16" fill="#82cc1a"/>
<polygon points="476.24,85.56 482.58,84.99 482.50,100.38 476.18,100.78" fill="#82cc1a"/>
<polygon points="482.58,84.99 487.18,84.57 487.07,100.08 482.50,100.38" fill="#46601a"/>
<polygon points="487.18,84.57 493.17,84.03 493.05,99.70 487.07,100.08" fill="#82cc1a"/>
<polygon points="493.17,84.03 499.00,83.50 498.85,99.33 493.05,99.70" fill="#82cc1a"/>
<polygon points="470.26,101.16 476.18,100.78 476.12,115.92 470.22,116.37" fill="#82cc1a"/>
<polygon points="476.18,100.78 482.50,100.38 482.42,115.44 476.12,115.92" fill="#82cc1a"/>
<polygon points="482.50,100.38 487.07,100.08 486.97,115.09 482.42,115.44" fill="#46601a"/>
<polygon points="487.07,100.08 493.05,99.70 492.93,114.63 486.97,115.09" fill="#82cc1a"/>
<polygon points="493.05,99.70 498.85,99.33 498.71,114.19 492.93,114.63" fill="#82cc1a"/>
<polygon points="470.22,116.37 476.12,115.92 476.06,131.42 470.18,132.03" fill="#d6ba1e"/>
<polygon points="476.12,115.92 482.42,115.44 482.33,130.76 476.06,131.42" fill="#d6ba1e"/>
<polygon points="482.42,115.44 486.97,115.09 486.87,130.28 482.33,130.76" fill="#54360e"/>
<polygon points="486.97,115.09 492.93,114.63 492.81,129.65 486.87,130.28" fill="#d6ba1e"/>
<polygon points="492.93,114.63 498.71,114.19 498.57,129.05 492.81,129.65" fill="#d6ba1e"/>
<polygon points="470.18,132.03 476.06,131.42 476.00,145.92 470.14,146.57" fill="#82cc1a"/>
<polygon points="476.06,131.42 482.33,130.76 482.25,145.24 476.00,145.92" fill="#82cc1a"/>
<polygon points="482.33,130.76 486.87,130.28 486.78,144.74 482.25,145.24" fill="#46601a"/>
<polygon points="486.87,130.28 492.81,129.65 492.69,144.09 486.78,144.74" fill="#82cc1a"/>
<polygon points="492.81,129.65 498.57,129.05 498.44,143.46 492.69,144.09" fill="#82cc1a"/>
<polygon points="470.14,146.57 476.00,145.92 475.94,160.65 470.10,161.40" fill="#82cc1a"/>
<polygon points="476.00,145.92 482.25,145.24 482.17,159.86 475.94,160.65" fill="#82cc1a"/>
<polygon points="482.25,145.24 486.78,144.74 486.68,159.28 482.17,159.86" fill="#46601a"/>
<polygon points="486.78,144.74 492.69,144.09 492.58,158.53 486.68,159.28" fill="#82cc1a"/>
<polygon points="492.69,144.09 498.44,143.46 498.30,157.80 492.58,158.53" fill="#82cc1a"/>
<path d="M470.30 86.10L470.10 161.40" stroke="#000" stroke-width="1.50" fill="none" stroke-linecap="square"/>
<path d="M476.24 85.56L475.94 160.65M493.17 84.03L492.58 158.53" stroke="#000" stroke-width="1.45" fill="none" stroke-linecap="square"/>
<path d="M482.58 84.99L482.17 159.86M487.18 84.57L486.68 159.28" stroke="#000" stroke-width="1.25" fill="none" stroke-linecap="square"/>
<path d="M499.00 83.50L498.30 157.80" stroke="#000" stroke-width="1.00" fill="none" stroke-linecap="square"/>
<path d="M470.30 86.10L499.00 83.50M470.26 101.16L498.85 99.33M470.22 116.37L498.71 114.19M470.18 132.03L498.57 129.05M470.14 146.57L498.44 143.46M470.10 161.40L498.30 157.80" stroke="#000" stroke-width="0.90" fill="none" stroke-linecap="square"/>
<path d="M426.65 95.11L430.52 107.20M434.12 96.41L438.06 108.66M426.87 109.29L430.72 121.85M430.56 110.02L434.44 122.67M438.09 111.52L442.04 124.34M441.93 112.28L445.91 125.19M427.10 123.88L430.92 135.82M434.61 136.70L438.25 126.38M442.06 127.24L446.01 139.38M445.93 128.11L449.91 140.30M430.96 138.68L434.78 150.63" stroke="#000" stroke-opacity="0.3" stroke-width="1.2" fill="none"/>
<path d="M476.23 87.08L482.51 98.84M487.08 98.53L493.16 85.60M476.00 144.42L482.32 132.26M486.86 131.78L492.70 142.60M475.94 159.16L482.24 146.72" stroke="#000" stroke-opacity="0.3" stroke-width="1.1" fill="none"/>
<path d="M426.40 78.90L470.30 86.20L499.00 83.60" stroke="#000" stroke-width="1.2" fill="none" stroke-linejoin="round"/>
<polygon points="426.40,78.80 455.00,76.30 499.00,83.50 498.30,157.80 470.10,161.40 427.50,150.10" fill="none" stroke="#000" stroke-width="0.8" stroke-linejoin="round"/>
<polygon points="127.90,180.90 153.70,177.80 204.90,185.90 176.90,188.20" fill="#060a04"/>
<path d="M133.24 180.86L152.92 178.54" stroke="#18c636" stroke-width="0.8" stroke-opacity="0.12"/>
<path d="M137.71 181.54L157.55 179.26" stroke="#18c636" stroke-width="0.8" stroke-opacity="0.12"/>
<path d="M142.19 182.21L162.18 179.99" stroke="#18c636" stroke-width="0.8" stroke-opacity="0.12"/>
<path d="M146.67 182.88L166.81 180.72" stroke="#18c636" stroke-width="0.8" stroke-opacity="0.12"/>
<path d="M151.15 183.55L171.44 181.45" stroke="#18c636" stroke-width="0.8" stroke-opacity="0.12"/>
<path d="M155.63 184.23L176.07 182.17" stroke="#18c636" stroke-width="0.8" stroke-opacity="0.12"/>
<path d="M160.11 184.90L180.70 182.90" stroke="#18c636" stroke-width="0.8" stroke-opacity="0.12"/>
<path d="M164.59 185.57L185.33 183.63" stroke="#18c636" stroke-width="0.8" stroke-opacity="0.12"/>
<path d="M169.06 186.24L189.96 184.36" stroke="#18c636" stroke-width="0.8" stroke-opacity="0.12"/>
<path d="M173.54 186.92L194.59 185.08" stroke="#18c636" stroke-width="0.8" stroke-opacity="0.12"/>
<path d="M178.02 187.59L199.22 185.81" stroke="#18c636" stroke-width="0.8" stroke-opacity="0.12"/>
<polygon points="127.90,180.90 132.07,181.52 132.33,196.09 128.19,195.45" fill="#18c636"/>
<polygon points="132.07,181.52 136.30,182.15 136.52,196.73 132.33,196.09" fill="#18c636"/>
<polygon points="136.30,182.15 140.58,182.79 140.77,197.39 136.52,196.73" fill="#18c636"/>
<polygon points="140.58,182.79 144.92,183.44 145.07,198.05 140.77,197.39" fill="#18c636"/>
<polygon points="144.92,183.44 149.32,184.09 149.43,198.72 145.07,198.05" fill="#18c636"/>
<polygon points="149.32,184.09 153.78,184.76 153.85,199.40 149.43,198.72" fill="#18c636"/>
<polygon points="153.78,184.76 158.29,185.43 158.32,200.09 153.85,199.40" fill="#18c636"/>
<polygon points="158.29,185.43 162.86,186.11 162.85,200.79 158.32,200.09" fill="#18c636"/>
<polygon points="162.86,186.11 167.48,186.80 167.44,201.49 162.85,200.79" fill="#18c636"/>
<polygon points="167.48,186.80 172.16,187.49 172.08,202.20 167.44,201.49" fill="#18c636"/>
<polygon points="172.16,187.49 176.90,188.20 176.78,202.92 172.08,202.20" fill="#18c636"/>
<polygon points="128.19,195.45 132.33,196.09 132.57,210.02 128.47,209.30" fill="#38ca2a"/>
<polygon points="132.33,196.09 136.52,196.73 136.73,210.76 132.57,210.02" fill="#38ca2a"/>
<polygon points="136.52,196.73 140.77,197.39 140.94,211.50 136.73,210.76" fill="#38ca2a"/>
<polygon points="140.77,197.39 145.07,198.05 145.21,212.25 140.94,211.50" fill="#38ca2a"/>
<polygon points="145.07,198.05 149.43,198.72 149.54,213.01 145.21,212.25" fill="#38ca2a"/>
<polygon points="149.43,198.72 153.85,199.40 153.92,213.79 149.54,213.01" fill="#38ca2a"/>
<polygon points="153.85,199.40 158.32,200.09 158.35,214.57 153.92,213.79" fill="#38ca2a"/>
<polygon points="158.32,200.09 162.85,200.79 162.85,215.36 158.35,214.57" fill="#38ca2a"/>
<polygon points="162.85,200.79 167.44,201.49 167.39,216.16 162.85,215.36" fill="#38ca2a"/>
<polygon points="167.44,201.49 172.08,202.20 172.00,216.97 167.39,216.16" fill="#38ca2a"/>
<polygon points="172.08,202.20 176.78,202.92 176.66,217.79 172.00,216.97" fill="#38ca2a"/>
<polygon points="128.47,209.30 132.57,210.02 132.82,224.31 128.76,223.50" fill="#38ca2a"/>
<polygon points="132.57,210.02 136.73,210.76 136.95,225.14 132.82,224.31" fill="#38ca2a"/>
<polygon points="136.73,210.76 140.94,211.50 141.12,225.98 136.95,225.14" fill="#38ca2a"/>
<polygon points="140.94,211.50 145.21,212.25 145.36,226.83 141.12,225.98" fill="#38ca2a"/>
<polygon points="145.21,212.25 149.54,213.01 149.64,227.69 145.36,226.83" fill="#38ca2a"/>
<polygon points="149.54,213.01 153.92,213.79 153.99,228.57 149.64,227.69" fill="#38ca2a"/>
<polygon points="153.92,213.79 158.35,214.57 158.39,229.45 153.99,228.57" fill="#38ca2a"/>
<polygon points="158.35,214.57 162.85,215.36 162.84,230.35 158.39,229.45" fill="#38ca2a"/>
<polygon points="162.85,215.36 167.39,216.16 167.35,231.25 162.84,230.35" fill="#38ca2a"/>
<polygon points="167.39,216.16 172.00,216.97 171.91,232.17 167.35,231.25" fill="#38ca2a"/>
<polygon points="172.00,216.97 176.66,217.79 176.53,233.10 171.91,232.17" fill="#38ca2a"/>
<polygon points="128.76,223.50 132.82,224.31 133.06,238.00 129.03,237.14" fill="#38ca2a"/>
<polygon points="132.82,224.31 136.95,225.14 137.15,238.88 133.06,238.00" fill="#38ca2a"/>
<polygon points="136.95,225.14 141.12,225.98 141.30,239.77 137.15,238.88" fill="#38ca2a"/>
<polygon points="141.12,225.98 145.36,226.83 145.49,240.67 141.30,239.77" fill="#38ca2a"/>
<polygon points="145.36,226.83 149.64,227.69 149.75,241.59 145.49,240.67" fill="#38ca2a"/>
<polygon points="149.64,227.69 153.99,228.57 154.05,242.51 149.75,241.59" fill="#38ca2a"/>
<polygon points="153.99,228.57 158.39,229.45 158.42,243.44 154.05,242.51" fill="#38ca2a"/>
<polygon points="158.39,229.45 162.84,230.35 162.83,244.39 158.42,243.44" fill="#38ca2a"/>
<polygon points="162.84,230.35 167.35,231.25 167.31,245.35 162.83,244.39" fill="#38ca2a"/>
<polygon points="167.35,231.25 171.91,232.17 171.84,246.32 167.31,245.35" fill="#38ca2a"/>
<polygon points="171.91,232.17 176.53,233.10 176.42,247.30 171.84,246.32" fill="#38ca2a"/>
<polygon points="129.03,237.14 133.06,238.00 133.30,251.46 129.30,250.50" fill="#18c636"/>
<polygon points="133.06,238.00 137.15,238.88 137.36,252.44 133.30,251.46" fill="#18c636"/>
<polygon points="137.15,238.88 141.30,239.77 141.47,253.42 137.36,252.44" fill="#18c636"/>
<polygon points="141.30,239.77 145.49,240.67 145.63,254.43 141.47,253.42" fill="#18c636"/>
<polygon points="145.49,240.67 149.75,241.59 149.85,255.44 145.63,254.43" fill="#18c636"/>
<polygon points="149.75,241.59 154.05,242.51 154.12,256.47 149.85,255.44" fill="#18c636"/>
<polygon points="154.05,242.51 158.42,243.44 158.45,257.51 154.12,256.47" fill="#18c636"/>
<polygon points="158.42,243.44 162.83,244.39 162.83,258.56 158.45,257.51" fill="#18c636"/>
<polygon points="162.83,244.39 167.31,245.35 167.27,259.63 162.83,258.56" fill="#18c636"/>
<polygon points="167.31,245.35 171.84,246.32 171.76,260.71 167.27,259.63" fill="#18c636"/>
<polygon points="171.84,246.32 176.42,247.30 176.30,261.80 171.76,260.71" fill="#18c636"/>
<path d="M127.90 180.90L129.30 250.50" stroke="#000" stroke-width="1.00" fill="none" stroke-linecap="square"/>
<path d="M132.07 181.52L133.30 251.46M136.30 182.15L137.36 252.44M140.58 182.79L141.47 253.42M144.92 183.44L145.63 254.43M149.32 184.09L149.85 255.44M153.78 184.76L154.12 256.47M158.29 185.43L158.45 257.51M162.86 186.11L162.83 258.56M167.48 186.80L167.27 259.63M172.16 187.49L171.76 260.71M176.90 188.20L176.30 261.80" stroke="#000" stroke-width="1.50" fill="none" stroke-linecap="square"/>
<path d="M127.90 180.90L176.90 188.20M128.19 195.45L176.78 202.92M128.47 209.30L176.66 217.79M128.76 223.50L176.53 233.10M129.03 237.14L176.42 247.30M129.30 250.50L176.30 261.80" stroke="#000" stroke-width="0.90" fill="none" stroke-linecap="square"/>
<polygon points="176.90,188.20 182.70,187.72 182.53,202.57 176.78,202.92" fill="#18c636"/>
<polygon points="182.70,187.72 188.88,187.22 188.67,202.20 182.53,202.57" fill="#18c636"/>
<polygon points="188.88,187.22 193.36,186.85 193.12,201.93 188.67,202.20" fill="#46601a"/>
<polygon points="193.36,186.85 199.22,186.37 198.92,201.58 193.12,201.93" fill="#18c636"/>
<polygon points="199.22,186.37 204.90,185.90 204.56,201.24 198.92,201.58" fill="#18c636"/>
<polygon points="176.78,202.92 182.53,202.57 182.37,217.34 176.66,217.79" fill="#18c636"/>
<polygon points="182.53,202.57 188.67,202.20 188.47,216.87 182.37,217.34" fill="#18c636"/>
<polygon points="188.67,202.20 193.12,201.93 192.88,216.53 188.47,216.87" fill="#46601a"/>
<polygon points="193.12,201.93 198.92,201.58 198.64,216.08 192.88,216.53" fill="#18c636"/>
<polygon points="198.92,201.58 204.56,201.24 204.24,215.64 198.64,216.08" fill="#18c636"/>
<polygon points="176.66,217.79 182.37,217.34 182.20,232.46 176.53,233.10" fill="#18c636"/>
<polygon points="182.37,217.34 188.47,216.87 188.26,231.79 182.20,232.46" fill="#18c636"/>
<polygon points="188.47,216.87 192.88,216.53 192.64,231.30 188.26,231.79" fill="#46601a"/>
<polygon points="192.88,216.53 198.64,216.08 198.36,230.66 192.64,231.30" fill="#18c636"/>
<polygon points="198.64,216.08 204.24,215.64 203.92,230.04 198.36,230.66" fill="#18c636"/>
<polygon points="176.53,233.10 182.20,232.46 182.05,246.62 176.42,247.30" fill="#18c636"/>
<polygon points="182.20,232.46 188.26,231.79 188.06,245.89 182.05,246.62" fill="#18c636"/>
<polygon points="188.26,231.79 192.64,231.30 192.41,245.36 188.06,245.89" fill="#46601a"/>
<polygon points="192.64,231.30 198.36,230.66 198.09,244.67 192.41,245.36" fill="#18c636"/>
<polygon points="198.36,230.66 203.92,230.04 203.61,244.00 198.09,244.67" fill="#18c636"/>
<polygon points="176.42,247.30 182.05,246.62 181.89,260.99 176.30,261.80" fill="#18c636"/>
<polygon points="182.05,246.62 188.06,245.89 187.86,260.13 181.89,260.99" fill="#18c636"/>
<polygon points="188.06,245.89 192.41,245.36 192.18,259.51 187.86,260.13" fill="#46601a"/>
<polygon points="192.41,245.36 198.09,244.67 197.82,258.69 192.18,259.51" fill="#18c636"/>
<polygon points="198.09,244.67 203.61,244.00 203.30,257.90 197.82,258.69" fill="#18c636"/>
<path d="M176.90 188.20L176.30 261.80" stroke="#000" stroke-width="1.50" fill="none" stroke-linecap="square"/>
<path d="M182.70 187.72L181.89 260.99M199.22 186.37L197.82 258.69" stroke="#000" stroke-width="1.45" fill="none" stroke-linecap="square"/>
<path d="M188.88 187.22L187.86 260.13M193.36 186.85L192.18 259.51" stroke="#000" stroke-width="1.25" fill="none" stroke-linecap="square"/>
<path d="M204.90 185.90L203.30 257.90" stroke="#000" stroke-width="1.00" fill="none" stroke-linecap="square"/>
<path d="M176.90 188.20L204.90 185.90M176.78 202.92L204.56 201.24M176.66 217.79L204.24 215.64M176.53 233.10L203.92 230.04M176.42 247.30L203.61 244.00M176.30 261.80L203.30 257.90" stroke="#000" stroke-width="0.90" fill="none" stroke-linecap="square"/>
<path d="M128.22 196.82L132.55 208.64M136.54 198.12L140.92 210.10M128.50 210.66L132.80 222.94M132.60 211.40L136.92 223.76M140.96 212.89L145.34 225.43M145.22 213.65L149.63 226.28M128.79 224.91L133.04 236.58M137.13 237.46L141.14 227.41M145.37 228.27L149.74 240.15M149.65 229.13L154.05 241.06M133.09 239.37L137.34 251.06" stroke="#000" stroke-opacity="0.3" stroke-width="1.2" fill="none"/>
<path d="M182.68 189.21L188.69 200.71M193.14 200.43L199.19 187.89M182.06 245.15L188.23 233.25M192.61 232.76L198.12 243.22M181.91 259.53L188.04 247.34" stroke="#000" stroke-opacity="0.3" stroke-width="1.1" fill="none"/>
<path d="M127.90 181.00L176.90 188.30L204.90 186.00" stroke="#000" stroke-width="1.2" fill="none" stroke-linejoin="round"/>
<polygon points="127.90,180.90 153.70,177.80 204.90,185.90 203.30,257.90 176.30,261.80 129.30,250.50" fill="none" stroke="#000" stroke-width="0.8" stroke-linejoin="round"/>
<polygon points="229.30,184.50 256.10,181.30 305.50,189.50 278.60,191.80" fill="#060a04"/>
<path d="M234.76 184.45L255.13 182.05" stroke="#82cc1a" stroke-width="0.8" stroke-opacity="0.12"/>
<path d="M239.24 185.13L259.62 182.79" stroke="#82cc1a" stroke-width="0.8" stroke-opacity="0.12"/>
<path d="M243.72 185.80L264.11 183.52" stroke="#82cc1a" stroke-width="0.8" stroke-opacity="0.12"/>
<path d="M248.21 186.47L268.60 184.26" stroke="#82cc1a" stroke-width="0.8" stroke-opacity="0.12"/>
<path d="M252.69 187.15L273.09 184.99" stroke="#82cc1a" stroke-width="0.8" stroke-opacity="0.12"/>
<path d="M257.17 187.82L277.58 185.73" stroke="#82cc1a" stroke-width="0.8" stroke-opacity="0.12"/>
<path d="M261.65 188.49L282.07 186.47" stroke="#82cc1a" stroke-width="0.8" stroke-opacity="0.12"/>
<path d="M266.14 189.17L286.56 187.20" stroke="#82cc1a" stroke-width="0.8" stroke-opacity="0.12"/>
<path d="M270.62 189.84L291.05 187.94" stroke="#82cc1a" stroke-width="0.8" stroke-opacity="0.12"/>
<path d="M275.10 190.51L295.54 188.67" stroke="#82cc1a" stroke-width="0.8" stroke-opacity="0.12"/>
<path d="M279.59 191.19L300.03 189.41" stroke="#82cc1a" stroke-width="0.8" stroke-opacity="0.12"/>
<polygon points="229.30,184.50 233.50,185.12 233.69,199.72 229.53,199.09" fill="#82cc1a"/>
<polygon points="233.50,185.12 237.75,185.75 237.91,200.35 233.69,199.72" fill="#82cc1a"/>
<polygon points="237.75,185.75 242.06,186.39 242.19,201.00 237.91,200.35" fill="#82cc1a"/>
<polygon points="242.06,186.39 246.43,187.04 246.52,201.65 242.19,201.00" fill="#82cc1a"/>
<polygon points="246.43,187.04 250.85,187.69 250.91,202.31 246.52,201.65" fill="#82cc1a"/>
<polygon points="250.85,187.69 255.34,188.36 255.36,202.98 250.91,202.31" fill="#82cc1a"/>
<polygon points="255.34,188.36 259.87,189.03 259.86,203.65 255.36,202.98" fill="#82cc1a"/>
<polygon points="259.87,189.03 264.47,189.71 264.42,204.34 259.86,203.65" fill="#82cc1a"/>
<polygon points="264.47,189.71 269.12,190.40 269.04,205.03 264.42,204.34" fill="#82cc1a"/>
<polygon points="269.12,190.40 273.83,191.09 273.71,205.73 269.04,205.03" fill="#82cc1a"/>
<polygon points="273.83,191.09 278.60,191.80 278.44,206.44 273.71,205.73" fill="#82cc1a"/>
<polygon points="229.53,199.09 233.69,199.72 233.88,213.68 229.75,212.98" fill="#d6ba1e"/>
<polygon points="233.69,199.72 237.91,200.35 238.07,214.40 233.88,213.68" fill="#d6ba1e"/>
<polygon points="237.91,200.35 242.19,201.00 242.31,215.12 238.07,214.40" fill="#d6ba1e"/>
<polygon points="242.19,201.00 246.52,201.65 246.61,215.85 242.31,215.12" fill="#d6ba1e"/>
<polygon points="246.52,201.65 250.91,202.31 250.96,216.59 246.61,215.85" fill="#d6ba1e"/>
<polygon points="250.91,202.31 255.36,202.98 255.37,217.34 250.96,216.59" fill="#d6ba1e"/>
<polygon points="255.36,202.98 259.86,203.65 259.84,218.10 255.37,217.34" fill="#d6ba1e"/>
<polygon points="259.86,203.65 264.42,204.34 264.37,218.87 259.84,218.10" fill="#d6ba1e"/>
<polygon points="264.42,204.34 269.04,205.03 268.95,219.64 264.37,218.87" fill="#d6ba1e"/>
<polygon points="269.04,205.03 273.71,205.73 273.58,220.43 268.95,219.64" fill="#d6ba1e"/>
<polygon points="273.71,205.73 278.44,206.44 278.28,221.23 273.58,220.43" fill="#d6ba1e"/>
<polygon points="229.75,212.98 233.88,213.68 234.07,228.00 229.97,227.22" fill="#d6ba1e"/>
<polygon points="233.88,213.68 238.07,214.40 238.22,228.80 234.07,228.00" fill="#d6ba1e"/>
<polygon points="238.07,214.40 242.31,215.12 242.43,229.61 238.22,228.80" fill="#d6ba1e"/>
<polygon points="242.31,215.12 246.61,215.85 246.70,230.43 242.43,229.61" fill="#d6ba1e"/>
<polygon points="246.61,215.85 250.96,216.59 251.02,231.26 246.70,230.43" fill="#d6ba1e"/>
<polygon points="250.96,216.59 255.37,217.34 255.39,232.10 251.02,231.26" fill="#d6ba1e"/>
<polygon points="255.37,217.34 259.84,218.10 259.83,232.95 255.39,232.10" fill="#d6ba1e"/>
<polygon points="259.84,218.10 264.37,218.87 264.31,233.81 259.83,232.95" fill="#d6ba1e"/>
<polygon points="264.37,218.87 268.95,219.64 268.86,234.68 264.31,233.81" fill="#d6ba1e"/>
<polygon points="268.95,219.64 273.58,220.43 273.46,235.56 268.86,234.68" fill="#d6ba1e"/>
<polygon points="273.58,220.43 278.28,221.23 278.11,236.45 273.46,235.56" fill="#d6ba1e"/>
<polygon points="229.97,227.22 234.07,228.00 234.25,241.72 230.19,240.90" fill="#d6ba1e"/>
<polygon points="234.07,228.00 238.22,228.80 238.38,242.56 234.25,241.72" fill="#d6ba1e"/>
<polygon points="238.22,228.80 242.43,229.61 242.55,243.41 238.38,242.56" fill="#d6ba1e"/>
<polygon points="242.43,229.61 246.70,230.43 246.78,244.27 242.55,243.41" fill="#d6ba1e"/>
<polygon points="246.70,230.43 251.02,231.26 251.07,245.14 246.78,244.27" fill="#d6ba1e"/>
<polygon points="251.02,231.26 255.39,232.10 255.41,246.02 251.07,245.14" fill="#d6ba1e"/>
<polygon points="255.39,232.10 259.83,232.95 259.81,246.91 255.41,246.02" fill="#d6ba1e"/>
<polygon points="259.83,232.95 264.31,233.81 264.26,247.81 259.81,246.91" fill="#d6ba1e"/>
<polygon points="264.31,233.81 268.86,234.68 268.77,248.72 264.26,247.81" fill="#d6ba1e"/>
<polygon points="268.86,234.68 273.46,235.56 273.34,249.64 268.77,248.72" fill="#d6ba1e"/>
<polygon points="273.46,235.56 278.11,236.45 277.96,250.58 273.34,249.64" fill="#d6ba1e"/>
<polygon points="230.19,240.90 234.25,241.72 234.43,255.21 230.40,254.30" fill="#82cc1a"/>
<polygon points="234.25,241.72 238.38,242.56 238.52,256.13 234.43,255.21" fill="#82cc1a"/>
<polygon points="238.38,242.56 242.55,243.41 242.67,257.07 238.52,256.13" fill="#82cc1a"/>
<polygon points="242.55,243.41 246.78,244.27 246.87,258.02 242.67,257.07" fill="#82cc1a"/>
<polygon points="246.78,244.27 251.07,245.14 251.12,258.98 246.87,258.02" fill="#82cc1a"/>
<polygon points="251.07,245.14 255.41,246.02 255.43,259.95 251.12,258.98" fill="#82cc1a"/>
<polygon points="255.41,246.02 259.81,246.91 259.80,260.94 255.43,259.95" fill="#82cc1a"/>
<polygon points="259.81,246.91 264.26,247.81 264.21,261.93 259.80,260.94" fill="#82cc1a"/>
<polygon points="264.26,247.81 268.77,248.72 268.69,262.94 264.21,261.93" fill="#82cc1a"/>
<polygon points="268.77,248.72 273.34,249.64 273.22,263.97 268.69,262.94" fill="#82cc1a"/>
<polygon points="273.34,249.64 277.96,250.58 277.80,265.00 273.22,263.97" fill="#82cc1a"/>
<path d="M229.30 184.50L230.40 254.30" stroke="#000" stroke-width="1.00" fill="none" stroke-linecap="square"/>
<path d="M233.50 185.12L234.43 255.21M237.75 185.75L238.52 256.13M242.06 186.39L242.67 257.07M246.43 187.04L246.87 258.02M250.85 187.69L251.12 258.98M255.34 188.36L255.43 259.95M259.87 189.03L259.80 260.94M264.47 189.71L264.21 261.93M269.12 190.40L268.69 262.94M273.83 191.09L273.22 263.97M278.60 191.80L277.80 265.00" stroke="#000" stroke-width="1.50" fill="none" stroke-linecap="square"/>
<path d="M229.30 184.50L278.60 191.80M229.53 199.09L278.44 206.44M229.75 212.98L278.28 221.23M229.97 227.22L278.11 236.45M230.19 240.90L277.96 250.58M230.40 254.30L277.80 265.00" stroke="#000" stroke-width="0.90" fill="none" stroke-linecap="square"/>
<polygon points="278.60,191.80 284.17,191.32 283.97,206.10 278.44,206.44" fill="#82cc1a"/>
<polygon points="284.17,191.32 290.11,190.82 289.87,205.73 283.97,206.10" fill="#d6ba1e"/>
<polygon points="290.11,190.82 294.42,190.45 294.14,205.46 289.87,205.73" fill="#54360e"/>
<polygon points="294.42,190.45 300.04,189.97 299.72,205.11 294.14,205.46" fill="#d6ba1e"/>
<polygon points="300.04,189.97 305.50,189.50 305.14,204.77 299.72,205.11" fill="#82cc1a"/>
<polygon points="278.44,206.44 283.97,206.10 283.77,220.79 278.28,221.23" fill="#d6ba1e"/>
<polygon points="283.97,206.10 289.87,205.73 289.63,220.33 283.77,220.79" fill="#d6ba1e"/>
<polygon points="289.87,205.73 294.14,205.46 293.87,219.99 289.63,220.33" fill="#6a300e"/>
<polygon points="294.14,205.46 299.72,205.11 299.42,219.54 293.87,219.99" fill="#d6ba1e"/>
<polygon points="299.72,205.11 305.14,204.77 304.80,219.11 299.42,219.54" fill="#d6ba1e"/>
<polygon points="278.28,221.23 283.77,220.79 283.57,235.83 278.11,236.45" fill="#d6ba1e"/>
<polygon points="283.77,220.79 289.63,220.33 289.39,235.17 283.57,235.83" fill="#e07210"/>
<polygon points="289.63,220.33 293.87,219.99 293.60,234.69 289.39,235.17" fill="#6a300e"/>
<polygon points="293.87,219.99 299.42,219.54 299.11,234.06 293.60,234.69" fill="#e07210"/>
<polygon points="299.42,219.54 304.80,219.11 304.46,233.45 299.11,234.06" fill="#d6ba1e"/>
<polygon points="278.11,236.45 283.57,235.83 283.38,249.91 277.96,250.58" fill="#d6ba1e"/>
<polygon points="283.57,235.83 289.39,235.17 289.16,249.20 283.38,249.91" fill="#d6ba1e"/>
<polygon points="289.39,235.17 293.60,234.69 293.35,248.69 289.16,249.20" fill="#6a300e"/>
<polygon points="293.60,234.69 299.11,234.06 298.82,248.02 293.35,248.69" fill="#d6ba1e"/>
<polygon points="299.11,234.06 304.46,233.45 304.13,247.36 298.82,248.02" fill="#d6ba1e"/>
<polygon points="277.96,250.58 283.38,249.91 283.18,264.21 277.80,265.00" fill="#82cc1a"/>
<polygon points="283.38,249.91 289.16,249.20 288.93,263.37 283.18,264.21" fill="#d6ba1e"/>
<polygon points="289.16,249.20 293.35,248.69 293.09,262.77 288.93,263.37" fill="#54360e"/>
<polygon points="293.35,248.69 298.82,248.02 298.52,261.97 293.09,262.77" fill="#d6ba1e"/>
<polygon points="298.82,248.02 304.13,247.36 303.80,261.20 298.52,261.97" fill="#82cc1a"/>
<path d="M278.60 191.80L277.80 265.00" stroke="#000" stroke-width="1.50" fill="none" stroke-linecap="square"/>
<path d="M284.17 191.32L283.18 264.21M300.04 189.97L298.52 261.97" stroke="#000" stroke-width="1.45" fill="none" stroke-linecap="square"/>
<path d="M290.11 190.82L288.93 263.37M294.42 190.45L293.09 262.77" stroke="#000" stroke-width="1.25" fill="none" stroke-linecap="square"/>
<path d="M305.50 189.50L303.80 261.20" stroke="#000" stroke-width="1.00" fill="none" stroke-linecap="square"/>
<path d="M278.60 191.80L305.50 189.50M278.44 206.44L305.14 204.77M278.28 221.23L304.80 219.11M278.11 236.45L304.46 233.45M277.96 250.58L304.13 247.36M277.80 265.00L303.80 261.20" stroke="#000" stroke-width="0.90" fill="none" stroke-linecap="square"/>
<path d="M229.55 200.46L233.86 212.30M237.93 201.74L242.30 213.72M229.77 214.35L234.05 226.63M233.90 215.06L238.21 227.42M242.32 216.51L246.69 229.03M246.62 217.25L251.01 229.85M230.00 228.64L234.24 240.30M238.36 241.13L242.45 231.04M246.71 231.86L251.07 243.70M251.02 232.69L255.41 244.57M234.27 243.09L238.51 254.76" stroke="#000" stroke-opacity="0.3" stroke-width="1.2" fill="none"/>
<path d="M284.15 192.80L289.89 204.24M294.17 203.96L300.01 191.48M283.40 248.46L289.36 236.62M293.58 236.14L298.85 246.57M283.20 262.76L289.14 250.64" stroke="#000" stroke-opacity="0.3" stroke-width="1.1" fill="none"/>
<path d="M229.30 184.60L278.60 191.90L305.50 189.60" stroke="#000" stroke-width="1.2" fill="none" stroke-linejoin="round"/>
<polygon points="229.30,184.50 256.10,181.30 305.50,189.50 303.80,261.20 277.80,265.00 230.40,254.30" fill="none" stroke="#000" stroke-width="0.8" stroke-linejoin="round"/>
<polygon points="331.70,187.50 358.50,184.30 408.40,191.80 380.90,194.80" fill="#060a04"/>
<path d="M337.16 187.45L357.55 185.02" stroke="#e4d210" stroke-width="0.8" stroke-opacity="0.12"/>
<path d="M341.64 188.11L362.08 185.70" stroke="#e4d210" stroke-width="0.8" stroke-opacity="0.12"/>
<path d="M346.12 188.78L366.61 186.38" stroke="#e4d210" stroke-width="0.8" stroke-opacity="0.12"/>
<path d="M350.60 189.45L371.13 187.06" stroke="#e4d210" stroke-width="0.8" stroke-opacity="0.12"/>
<path d="M355.08 190.11L375.66 187.74" stroke="#e4d210" stroke-width="0.8" stroke-opacity="0.12"/>
<path d="M359.56 190.78L380.19 188.42" stroke="#e4d210" stroke-width="0.8" stroke-opacity="0.12"/>
<path d="M364.04 191.44L384.72 189.10" stroke="#e4d210" stroke-width="0.8" stroke-opacity="0.12"/>
<path d="M368.52 192.11L389.25 189.78" stroke="#e4d210" stroke-width="0.8" stroke-opacity="0.12"/>
<path d="M373.00 192.78L393.78 190.46" stroke="#e4d210" stroke-width="0.8" stroke-opacity="0.12"/>
<path d="M377.48 193.44L398.31 191.14" stroke="#e4d210" stroke-width="0.8" stroke-opacity="0.12"/>
<path d="M381.96 194.11L402.84 191.82" stroke="#e4d210" stroke-width="0.8" stroke-opacity="0.12"/>
<polygon points="331.70,187.50 335.89,188.12 336.23,202.69 332.08,202.07" fill="#e4d210"/>
<polygon points="335.89,188.12 340.13,188.75 340.44,203.33 336.23,202.69" fill="#e4d210"/>
<polygon points="340.13,188.75 344.44,189.39 344.70,203.97 340.44,203.33" fill="#e4d210"/>
<polygon points="344.44,189.39 348.79,190.04 349.02,204.62 344.70,203.97" fill="#e4d210"/>
<polygon points="348.79,190.04 353.21,190.69 353.40,205.28 349.02,204.62" fill="#e4d210"/>
<polygon points="353.21,190.69 357.68,191.36 357.83,205.95 353.40,205.28" fill="#e4d210"/>
<polygon points="357.68,191.36 362.21,192.03 362.33,206.62 357.83,205.95" fill="#e4d210"/>
<polygon points="362.21,192.03 366.80,192.71 366.87,207.30 362.33,206.62" fill="#e4d210"/>
<polygon points="366.80,192.71 371.44,193.40 371.48,208.00 366.87,207.30" fill="#e4d210"/>
<polygon points="371.44,193.40 376.14,194.09 376.14,208.69 371.48,208.00" fill="#e4d210"/>
<polygon points="376.14,194.09 380.90,194.80 380.86,209.40 376.14,208.69" fill="#e4d210"/>
<polygon points="332.08,202.07 336.23,202.69 336.55,216.64 332.43,215.94" fill="#e07210"/>
<polygon points="336.23,202.69 340.44,203.33 340.73,217.35 336.55,216.64" fill="#e07210"/>
<polygon points="340.44,203.33 344.70,203.97 344.96,218.07 340.73,217.35" fill="#e07210"/>
<polygon points="344.70,203.97 349.02,204.62 349.24,218.79 344.96,218.07" fill="#e07210"/>
<polygon points="349.02,204.62 353.40,205.28 353.58,219.53 349.24,218.79" fill="#e07210"/>
<polygon points="353.40,205.28 357.83,205.95 357.98,220.28 353.58,219.53" fill="#e07210"/>
<polygon points="357.83,205.95 362.33,206.62 362.44,221.03 357.98,220.28" fill="#e07210"/>
<polygon points="362.33,206.62 366.87,207.30 366.95,221.80 362.44,221.03" fill="#e07210"/>
<polygon points="366.87,207.30 371.48,208.00 371.52,222.57 366.95,221.80" fill="#e07210"/>
<polygon points="371.48,208.00 376.14,208.69 376.14,223.35 371.52,222.57" fill="#e07210"/>
<polygon points="376.14,208.69 380.86,209.40 380.82,224.15 376.14,223.35" fill="#e07210"/>
<polygon points="332.43,215.94 336.55,216.64 336.89,230.94 332.80,230.16" fill="#e07210"/>
<polygon points="336.55,216.64 340.73,217.35 341.02,231.73 336.89,230.94" fill="#e07210"/>
<polygon points="340.73,217.35 344.96,218.07 345.22,232.53 341.02,231.73" fill="#e07210"/>
<polygon points="344.96,218.07 349.24,218.79 349.47,233.35 345.22,232.53" fill="#e07210"/>
<polygon points="349.24,218.79 353.58,219.53 353.78,234.17 349.47,233.35" fill="#e07210"/>
<polygon points="353.58,219.53 357.98,220.28 358.14,235.00 353.78,234.17" fill="#e07210"/>
<polygon points="357.98,220.28 362.44,221.03 362.55,235.85 358.14,235.00" fill="#e07210"/>
<polygon points="362.44,221.03 366.95,221.80 367.03,236.70 362.55,235.85" fill="#e07210"/>
<polygon points="366.95,221.80 371.52,222.57 371.55,237.57 367.03,236.70" fill="#e07210"/>
<polygon points="371.52,222.57 376.14,223.35 376.14,238.44 371.55,237.57" fill="#e07210"/>
<polygon points="376.14,223.35 380.82,224.15 380.78,239.33 376.14,238.44" fill="#e07210"/>
<polygon points="332.80,230.16 336.89,230.94 337.20,244.64 333.15,243.82" fill="#e07210"/>
<polygon points="336.89,230.94 341.02,231.73 341.31,245.47 337.20,244.64" fill="#e07210"/>
<polygon points="341.02,231.73 345.22,232.53 345.47,246.31 341.31,245.47" fill="#e07210"/>
<polygon points="345.22,232.53 349.47,233.35 349.68,247.16 345.47,246.31" fill="#e07210"/>
<polygon points="349.47,233.35 353.78,234.17 353.96,248.02 349.68,247.16" fill="#e07210"/>
<polygon points="353.78,234.17 358.14,235.00 358.28,248.89 353.96,248.02" fill="#e07210"/>
<polygon points="358.14,235.00 362.55,235.85 362.66,249.78 358.28,248.89" fill="#e07210"/>
<polygon points="362.55,235.85 367.03,236.70 367.10,250.67 362.66,249.78" fill="#e07210"/>
<polygon points="367.03,236.70 371.55,237.57 371.59,251.58 367.10,250.67" fill="#e07210"/>
<polygon points="371.55,237.57 376.14,238.44 376.14,252.49 371.59,251.58" fill="#e07210"/>
<polygon points="376.14,238.44 380.78,239.33 380.74,253.42 376.14,252.49" fill="#e07210"/>
<polygon points="333.15,243.82 337.20,244.64 337.52,258.10 333.50,257.20" fill="#e4d210"/>
<polygon points="337.20,244.64 341.31,245.47 341.59,259.02 337.52,258.10" fill="#e4d210"/>
<polygon points="341.31,245.47 345.47,246.31 345.72,259.94 341.59,259.02" fill="#e4d210"/>
<polygon points="345.47,246.31 349.68,247.16 349.90,260.88 345.72,259.94" fill="#e4d210"/>
<polygon points="349.68,247.16 353.96,248.02 354.14,261.83 349.90,260.88" fill="#e4d210"/>
<polygon points="353.96,248.02 358.28,248.89 358.43,262.80 354.14,261.83" fill="#e4d210"/>
<polygon points="358.28,248.89 362.66,249.78 362.77,263.77 358.43,262.80" fill="#e4d210"/>
<polygon points="362.66,249.78 367.10,250.67 367.17,264.76 362.77,263.77" fill="#e4d210"/>
<polygon points="367.10,250.67 371.59,251.58 371.63,265.76 367.17,264.76" fill="#e4d210"/>
<polygon points="371.59,251.58 376.14,252.49 376.14,266.78 371.63,265.76" fill="#e4d210"/>
<polygon points="376.14,252.49 380.74,253.42 380.70,267.80 376.14,266.78" fill="#e4d210"/>
<path d="M331.70 187.50L333.50 257.20" stroke="#000" stroke-width="1.00" fill="none" stroke-linecap="square"/>
<path d="M335.89 188.12L337.52 258.10M340.13 188.75L341.59 259.02M344.44 189.39L345.72 259.94M348.79 190.04L349.90 260.88M353.21 190.69L354.14 261.83M357.68 191.36L358.43 262.80M362.21 192.03L362.77 263.77M366.80 192.71L367.17 264.76M371.44 193.40L371.63 265.76M376.14 194.09L376.14 266.78M380.90 194.80L380.70 267.80" stroke="#000" stroke-width="1.50" fill="none" stroke-linecap="square"/>
<path d="M331.70 187.50L380.90 194.80M332.08 202.07L380.86 209.40M332.43 215.94L380.82 224.15M332.80 230.16L380.78 239.33M333.15 243.82L380.74 253.42M333.50 257.20L380.70 267.80" stroke="#000" stroke-width="0.90" fill="none" stroke-linecap="square"/>
<polygon points="380.90,194.80 386.59,194.18 386.49,208.95 380.86,209.40" fill="#e4d210"/>
<polygon points="386.59,194.18 392.67,193.52 392.50,208.47 386.49,208.95" fill="#e4d210"/>
<polygon points="392.67,193.52 397.07,193.04 396.85,208.12 392.50,208.47" fill="#6a300e"/>
<polygon points="397.07,193.04 402.82,192.41 402.52,207.66 396.85,208.12" fill="#e4d210"/>
<polygon points="402.82,192.41 408.40,191.80 408.04,207.22 402.52,207.66" fill="#e4d210"/>
<polygon points="380.86,209.40 386.49,208.95 386.39,223.64 380.82,224.15" fill="#e07210"/>
<polygon points="386.49,208.95 392.50,208.47 392.33,223.10 386.39,223.64" fill="#e07210"/>
<polygon points="392.50,208.47 396.85,208.12 396.63,222.71 392.33,223.10" fill="#6a300e"/>
<polygon points="396.85,208.12 402.52,207.66 402.24,222.20 396.63,222.71" fill="#e07210"/>
<polygon points="402.52,207.66 408.04,207.22 407.70,221.70 402.24,222.20" fill="#e07210"/>
<polygon points="380.82,224.15 386.39,223.64 386.28,238.68 380.78,239.33" fill="#e07210"/>
<polygon points="386.39,223.64 392.33,223.10 392.16,237.98 386.28,238.68" fill="#e07210"/>
<polygon points="392.33,223.10 396.63,222.71 396.41,237.48 392.16,237.98" fill="#6a300e"/>
<polygon points="396.63,222.71 402.24,222.20 401.96,236.82 396.41,237.48" fill="#e07210"/>
<polygon points="402.24,222.20 407.70,221.70 407.36,236.18 401.96,236.82" fill="#e07210"/>
<polygon points="380.78,239.33 386.28,238.68 386.18,252.76 380.74,253.42" fill="#e07210"/>
<polygon points="386.28,238.68 392.16,237.98 391.99,252.05 386.18,252.76" fill="#e07210"/>
<polygon points="392.16,237.98 396.41,237.48 396.20,251.54 391.99,252.05" fill="#6a300e"/>
<polygon points="396.41,237.48 401.96,236.82 401.69,250.88 396.20,251.54" fill="#e07210"/>
<polygon points="401.96,236.82 407.36,236.18 407.03,250.23 401.69,250.88" fill="#e07210"/>
<polygon points="380.74,253.42 386.18,252.76 386.08,267.05 380.70,267.80" fill="#e4d210"/>
<polygon points="386.18,252.76 391.99,252.05 391.83,266.26 386.08,267.05" fill="#e4d210"/>
<polygon points="391.99,252.05 396.20,251.54 395.99,265.68 391.83,266.26" fill="#6a300e"/>
<polygon points="396.20,251.54 401.69,250.88 401.42,264.93 395.99,265.68" fill="#e4d210"/>
<polygon points="401.69,250.88 407.03,250.23 406.70,264.20 401.42,264.93" fill="#e4d210"/>
<path d="M380.90 194.80L380.70 267.80" stroke="#000" stroke-width="1.50" fill="none" stroke-linecap="square"/>
<path d="M386.59 194.18L386.08 267.05M402.82 192.41L401.42 264.93" stroke="#000" stroke-width="1.45" fill="none" stroke-linecap="square"/>
<path d="M392.67 193.52L391.83 266.26M397.07 193.04L395.99 265.68" stroke="#000" stroke-width="1.25" fill="none" stroke-linecap="square"/>
<path d="M408.40 191.80L406.70 264.20" stroke="#000" stroke-width="1.00" fill="none" stroke-linecap="square"/>
<path d="M380.90 194.80L408.40 191.80M380.86 209.40L408.04 207.22M380.82 224.15L407.70 221.70M380.78 239.33L407.36 236.18M380.74 253.42L407.03 250.23M380.70 267.80L406.70 264.20" stroke="#000" stroke-width="0.90" fill="none" stroke-linecap="square"/>
<path d="M332.11 203.44L336.52 215.26M340.46 204.72L344.93 216.67M332.47 217.30L336.85 229.56M336.58 218.01L341.00 230.35M344.98 219.46L349.45 231.95M349.26 220.19L353.76 232.76M332.84 231.57L337.17 243.22M341.28 244.04L345.25 233.96M349.49 234.78L353.94 246.58M353.79 235.60L358.27 247.45M337.24 246.00L341.56 257.64" stroke="#000" stroke-opacity="0.3" stroke-width="1.2" fill="none"/>
<path d="M386.58 195.66L392.51 206.97M396.87 206.61L402.79 193.93M386.19 251.30L392.14 239.44M396.39 238.94L401.72 249.42M386.09 265.60L391.98 253.50" stroke="#000" stroke-opacity="0.3" stroke-width="1.1" fill="none"/>
<path d="M331.70 187.60L380.90 194.90L408.40 191.90" stroke="#000" stroke-width="1.2" fill="none" stroke-linejoin="round"/>
<polygon points="331.70,187.50 358.50,184.30 408.40,191.80 406.70,264.20 380.70,267.80 333.50,257.20" fill="none" stroke="#000" stroke-width="0.8" stroke-linejoin="round"/>
<polygon points="436.00,190.40 462.30,186.70 512.00,194.70 485.40,197.70" fill="#060a04"/>
<path d="M441.40 190.29L461.40 187.50" stroke="#e4d210" stroke-width="0.8" stroke-opacity="0.12"/>
<path d="M445.90 190.96L465.92 188.22" stroke="#e4d210" stroke-width="0.8" stroke-opacity="0.12"/>
<path d="M450.39 191.63L470.43 188.94" stroke="#e4d210" stroke-width="0.8" stroke-opacity="0.12"/>
<path d="M454.89 192.31L474.95 189.66" stroke="#e4d210" stroke-width="0.8" stroke-opacity="0.12"/>
<path d="M459.38 192.98L479.46 190.38" stroke="#e4d210" stroke-width="0.8" stroke-opacity="0.12"/>
<path d="M463.87 193.65L483.98 191.10" stroke="#e4d210" stroke-width="0.8" stroke-opacity="0.12"/>
<path d="M468.37 194.32L488.49 191.82" stroke="#e4d210" stroke-width="0.8" stroke-opacity="0.12"/>
<path d="M472.86 194.99L493.01 192.54" stroke="#e4d210" stroke-width="0.8" stroke-opacity="0.12"/>
<path d="M477.36 195.66L497.52 193.26" stroke="#e4d210" stroke-width="0.8" stroke-opacity="0.12"/>
<path d="M481.85 196.33L502.04 193.98" stroke="#e4d210" stroke-width="0.8" stroke-opacity="0.12"/>
<path d="M486.34 197.00L506.55 194.70" stroke="#e4d210" stroke-width="0.8" stroke-opacity="0.12"/>
<polygon points="436.00,190.40 440.21,191.02 440.52,205.60 436.36,204.97" fill="#e4d210"/>
<polygon points="440.21,191.02 444.47,191.65 444.75,206.25 440.52,205.60" fill="#e4d210"/>
<polygon points="444.47,191.65 448.79,192.29 449.03,206.90 444.75,206.25" fill="#e4d210"/>
<polygon points="448.79,192.29 453.16,192.94 453.36,207.56 449.03,206.90" fill="#e4d210"/>
<polygon points="453.16,192.94 457.60,193.59 457.76,208.23 453.36,207.56" fill="#e4d210"/>
<polygon points="457.60,193.59 462.09,194.26 462.21,208.91 457.76,208.23" fill="#e4d210"/>
<polygon points="462.09,194.26 466.64,194.93 466.72,209.60 462.21,208.91" fill="#e4d210"/>
<polygon points="466.64,194.93 471.24,195.61 471.28,210.29 466.72,209.60" fill="#e4d210"/>
<polygon points="471.24,195.61 475.90,196.30 475.90,210.99 471.28,210.29" fill="#e4d210"/>
<polygon points="475.90,196.30 480.62,196.99 480.58,211.70 475.90,210.99" fill="#e4d210"/>
<polygon points="480.62,196.99 485.40,197.70 485.32,212.42 480.58,211.70" fill="#e4d210"/>
<polygon points="436.36,204.97 440.52,205.60 440.83,219.56 436.69,218.84" fill="#e07210"/>
<polygon points="440.52,205.60 444.75,206.25 445.01,220.29 440.83,219.56" fill="#e07210"/>
<polygon points="444.75,206.25 449.03,206.90 449.26,221.03 445.01,220.29" fill="#e07210"/>
<polygon points="449.03,206.90 453.36,207.56 453.56,221.78 449.26,221.03" fill="#e07210"/>
<polygon points="453.36,207.56 457.76,208.23 457.91,222.54 453.56,221.78" fill="#e07210"/>
<polygon points="457.76,208.23 462.21,208.91 462.33,223.31 457.91,222.54" fill="#e07210"/>
<polygon points="462.21,208.91 466.72,209.60 466.80,224.08 462.33,223.31" fill="#e07210"/>
<polygon points="466.72,209.60 471.28,210.29 471.32,224.87 466.80,224.08" fill="#e07210"/>
<polygon points="471.28,210.29 475.90,210.99 475.91,225.67 471.32,224.87" fill="#e07210"/>
<polygon points="475.90,210.99 480.58,211.70 480.54,226.47 475.91,225.67" fill="#e07210"/>
<polygon points="480.58,211.70 485.32,212.42 485.24,227.29 480.54,226.47" fill="#e07210"/>
<polygon points="436.69,218.84 440.83,219.56 441.14,233.87 437.04,233.06" fill="#e07210"/>
<polygon points="440.83,219.56 445.01,220.29 445.29,234.69 441.14,233.87" fill="#e07210"/>
<polygon points="445.01,220.29 449.26,221.03 449.49,235.53 445.29,234.69" fill="#e07210"/>
<polygon points="449.26,221.03 453.56,221.78 453.76,236.37 449.49,235.53" fill="#e07210"/>
<polygon points="453.56,221.78 457.91,222.54 458.08,237.23 453.76,236.37" fill="#e07210"/>
<polygon points="457.91,222.54 462.33,223.31 462.45,238.10 458.08,237.23" fill="#e07210"/>
<polygon points="462.33,223.31 466.80,224.08 466.88,238.97 462.45,238.10" fill="#e07210"/>
<polygon points="466.80,224.08 471.32,224.87 471.36,239.86 466.88,238.97" fill="#e07210"/>
<polygon points="471.32,224.87 475.91,225.67 475.91,240.76 471.36,239.86" fill="#e07210"/>
<polygon points="475.91,225.67 480.54,226.47 480.50,241.67 475.91,240.76" fill="#e07210"/>
<polygon points="480.54,226.47 485.24,227.29 485.16,242.60 480.50,241.67" fill="#e07210"/>
<polygon points="437.04,233.06 441.14,233.87 441.43,247.58 437.37,246.72" fill="#e07210"/>
<polygon points="441.14,233.87 445.29,234.69 445.55,248.45 441.43,247.58" fill="#e07210"/>
<polygon points="445.29,234.69 449.49,235.53 449.72,249.33 445.55,248.45" fill="#e07210"/>
<polygon points="449.49,235.53 453.76,236.37 453.95,250.23 449.72,249.33" fill="#e07210"/>
<polygon points="453.76,236.37 458.08,237.23 458.23,251.13 453.95,250.23" fill="#e07210"/>
<polygon points="458.08,237.23 462.45,238.10 462.56,252.05 458.23,251.13" fill="#e07210"/>
<polygon points="462.45,238.10 466.88,238.97 466.96,252.98 462.56,252.05" fill="#e07210"/>
<polygon points="466.88,238.97 471.36,239.86 471.40,253.91 466.96,252.98" fill="#e07210"/>
<polygon points="471.36,239.86 475.91,240.76 475.91,254.87 471.40,253.91" fill="#e07210"/>
<polygon points="475.91,240.76 480.50,241.67 480.47,255.83 475.91,254.87" fill="#e07210"/>
<polygon points="480.50,241.67 485.16,242.60 485.08,256.80 480.47,255.83" fill="#e07210"/>
<polygon points="437.37,246.72 441.43,247.58 441.73,261.05 437.70,260.10" fill="#e4d210"/>
<polygon points="441.43,247.58 445.55,248.45 445.81,262.02 441.73,261.05" fill="#e4d210"/>
<polygon points="445.55,248.45 449.72,249.33 449.94,263.00 445.81,262.02" fill="#e4d210"/>
<polygon points="449.72,249.33 453.95,250.23 454.13,263.99 449.94,263.00" fill="#e4d210"/>
<polygon points="453.95,250.23 458.23,251.13 458.38,265.00 454.13,263.99" fill="#e4d210"/>
<polygon points="458.23,251.13 462.56,252.05 462.68,266.01 458.38,265.00" fill="#e4d210"/>
<polygon points="462.56,252.05 466.96,252.98 467.03,267.05 462.68,266.01" fill="#e4d210"/>
<polygon points="466.96,252.98 471.40,253.91 471.44,268.09 467.03,267.05" fill="#e4d210"/>
<polygon points="471.40,253.91 475.91,254.87 475.91,269.15 471.44,268.09" fill="#e4d210"/>
<polygon points="475.91,254.87 480.47,255.83 480.43,270.22 475.91,269.15" fill="#e4d210"/>
<polygon points="480.47,255.83 485.08,256.80 485.00,271.30 480.43,270.22" fill="#e4d210"/>
<path d="M436.00 190.40L437.70 260.10" stroke="#000" stroke-width="1.00" fill="none" stroke-linecap="square"/>
<path d="M440.21 191.02L441.73 261.05M444.47 191.65L445.81 262.02M448.79 192.29L449.94 263.00M453.16 192.94L454.13 263.99M457.60 193.59L458.38 265.00M462.09 194.26L462.68 266.01M466.64 194.93L467.03 267.05M471.24 195.61L471.44 268.09M475.90 196.30L475.91 269.15M480.62 196.99L480.43 270.22M485.40 197.70L485.00 271.30" stroke="#000" stroke-width="1.50" fill="none" stroke-linecap="square"/>
<path d="M436.00 190.40L485.40 197.70M436.36 204.97L485.32 212.42M436.69 218.84L485.24 227.29M437.04 233.06L485.16 242.60M437.37 246.72L485.08 256.80M437.70 260.10L485.00 271.30" stroke="#000" stroke-width="0.90" fill="none" stroke-linecap="square"/>
<polygon points="485.40,197.70 490.91,197.08 490.78,211.96 485.32,212.42" fill="#e4d210"/>
<polygon points="490.91,197.08 496.78,196.42 496.61,211.47 490.78,211.96" fill="#e4d210"/>
<polygon points="496.78,196.42 501.04,195.94 500.84,211.11 496.61,211.47" fill="#6a300e"/>
<polygon points="501.04,195.94 506.60,195.31 506.35,210.64 500.84,211.11" fill="#e4d210"/>
<polygon points="506.60,195.31 512.00,194.70 511.70,210.19 506.35,210.64" fill="#e4d210"/>
<polygon points="485.32,212.42 490.78,211.96 490.66,226.76 485.24,227.29" fill="#e07210"/>
<polygon points="490.78,211.96 496.61,211.47 496.45,226.19 490.66,226.76" fill="#e07210"/>
<polygon points="496.61,211.47 500.84,211.11 500.64,225.78 496.45,226.19" fill="#6a300e"/>
<polygon points="500.84,211.11 506.35,210.64 506.11,225.25 500.64,225.78" fill="#e07210"/>
<polygon points="506.35,210.64 511.70,210.19 511.42,224.73 506.11,225.25" fill="#e07210"/>
<polygon points="485.24,227.29 490.66,226.76 490.54,241.91 485.16,242.60" fill="#e07210"/>
<polygon points="490.66,226.76 496.45,226.19 496.28,241.17 490.54,241.91" fill="#e07210"/>
<polygon points="496.45,226.19 500.64,225.78 500.44,240.64 496.28,241.17" fill="#6a300e"/>
<polygon points="500.64,225.78 506.11,225.25 505.87,239.94 500.44,240.64" fill="#e07210"/>
<polygon points="506.11,225.25 511.42,224.73 511.14,239.27 505.87,239.94" fill="#e07210"/>
<polygon points="485.16,242.60 490.54,241.91 490.42,256.09 485.08,256.80" fill="#e07210"/>
<polygon points="490.54,241.91 496.28,241.17 496.12,255.33 490.42,256.09" fill="#e07210"/>
<polygon points="496.28,241.17 500.44,240.64 500.25,254.78 496.12,255.33" fill="#6a300e"/>
<polygon points="500.44,240.64 505.87,239.94 505.64,254.07 500.25,254.78" fill="#e07210"/>
<polygon points="505.87,239.94 511.14,239.27 510.87,253.37 505.64,254.07" fill="#e07210"/>
<polygon points="485.08,256.80 490.42,256.09 490.30,270.49 485.00,271.30" fill="#e4d210"/>
<polygon points="490.42,256.09 496.12,255.33 495.96,269.63 490.30,270.49" fill="#e4d210"/>
<polygon points="496.12,255.33 500.25,254.78 500.05,269.01 495.96,269.63" fill="#6a300e"/>
<polygon points="500.25,254.78 505.64,254.07 505.40,268.19 500.05,269.01" fill="#e4d210"/>
<polygon points="505.64,254.07 510.87,253.37 510.60,267.40 505.40,268.19" fill="#e4d210"/>
<path d="M485.40 197.70L485.00 271.30" stroke="#000" stroke-width="1.50" fill="none" stroke-linecap="square"/>
<path d="M490.91 197.08L490.30 270.49M506.60 195.31L505.40 268.19" stroke="#000" stroke-width="1.45" fill="none" stroke-linecap="square"/>
<path d="M496.78 196.42L495.96 269.63M501.04 195.94L500.05 269.01" stroke="#000" stroke-width="1.25" fill="none" stroke-linecap="square"/>
<path d="M512.00 194.70L510.60 267.40" stroke="#000" stroke-width="1.00" fill="none" stroke-linecap="square"/>
<path d="M485.40 197.70L512.00 194.70M485.32 212.42L511.70 210.19M485.24 227.29L511.42 224.73M485.16 242.60L511.14 239.27M485.08 256.80L510.87 253.37M485.00 271.30L510.60 267.40" stroke="#000" stroke-width="0.90" fill="none" stroke-linecap="square"/>
<path d="M436.39 206.34L440.80 218.18M444.77 207.64L449.23 219.63M436.73 220.20L441.11 232.49M440.85 220.93L445.26 233.31M449.28 222.42L453.74 234.97M453.58 223.18L458.06 235.82M437.07 234.47L441.40 246.16M445.52 247.02L449.52 236.96M453.78 237.81L458.21 249.69M458.09 238.67L462.55 250.60M441.46 248.95L445.78 260.64" stroke="#000" stroke-opacity="0.3" stroke-width="1.2" fill="none"/>
<path d="M490.89 198.57L496.63 209.96M500.86 209.59L506.58 196.84M490.43 254.62L496.26 242.64M500.42 242.10L505.66 252.60M490.31 269.03L496.10 256.78" stroke="#000" stroke-opacity="0.3" stroke-width="1.1" fill="none"/>
<path d="M436.00 190.50L485.40 197.80L512.00 194.80" stroke="#000" stroke-width="1.2" fill="none" stroke-linejoin="round"/>
<polygon points="436.00,190.40 462.30,186.70 512.00,194.70 510.60,267.40 485.00,271.30 437.70,260.10" fill="none" stroke="#000" stroke-width="0.8" stroke-linejoin="round"/>
<polygon points="127.40,284.90 154.90,281.80 202.30,289.20 173.80,292.20" fill="#060a04"/>
<path d="M132.81 284.86L153.75 282.51" stroke="#18c636" stroke-width="0.8" stroke-opacity="0.12"/>
<path d="M137.04 285.53L158.05 283.18" stroke="#18c636" stroke-width="0.8" stroke-opacity="0.12"/>
<path d="M141.27 286.19L162.35 283.85" stroke="#18c636" stroke-width="0.8" stroke-opacity="0.12"/>
<path d="M145.50 286.85L166.64 284.52" stroke="#18c636" stroke-width="0.8" stroke-opacity="0.12"/>
<path d="M149.73 287.52L170.94 285.19" stroke="#18c636" stroke-width="0.8" stroke-opacity="0.12"/>
<path d="M153.96 288.18L175.24 285.87" stroke="#18c636" stroke-width="0.8" stroke-opacity="0.12"/>
<path d="M158.19 288.85L179.54 286.54" stroke="#18c636" stroke-width="0.8" stroke-opacity="0.12"/>
<path d="M162.42 289.51L183.84 287.21" stroke="#18c636" stroke-width="0.8" stroke-opacity="0.12"/>
<path d="M166.65 290.18L188.13 287.88" stroke="#18c636" stroke-width="0.8" stroke-opacity="0.12"/>
<path d="M170.88 290.84L192.43 288.55" stroke="#18c636" stroke-width="0.8" stroke-opacity="0.12"/>
<path d="M175.11 291.51L196.73 289.22" stroke="#18c636" stroke-width="0.8" stroke-opacity="0.12"/>
<polygon points="127.40,284.90 131.35,285.52 131.59,301.08 127.67,300.45" fill="#18c636"/>
<polygon points="131.35,285.52 135.35,286.15 135.57,301.71 131.59,301.08" fill="#18c636"/>
<polygon points="135.35,286.15 139.41,286.79 139.60,302.36 135.57,301.71" fill="#18c636"/>
<polygon points="139.41,286.79 143.52,287.44 143.68,303.01 139.60,302.36" fill="#18c636"/>
<polygon points="143.52,287.44 147.69,288.09 147.82,303.67 143.68,303.01" fill="#18c636"/>
<polygon points="147.69,288.09 151.90,288.76 152.01,304.34 147.82,303.67" fill="#18c636"/>
<polygon points="151.90,288.76 156.18,289.43 156.25,305.02 152.01,304.34" fill="#18c636"/>
<polygon points="156.18,289.43 160.50,290.11 160.55,305.70 156.25,305.02" fill="#18c636"/>
<polygon points="160.50,290.11 164.88,290.80 164.90,306.39 160.55,305.70" fill="#18c636"/>
<polygon points="164.88,290.80 169.31,291.49 169.30,307.09 164.90,306.39" fill="#18c636"/>
<polygon points="169.31,291.49 173.80,292.20 173.76,307.80 169.30,307.09" fill="#18c636"/>
<polygon points="127.67,300.45 131.59,301.08 131.83,315.96 127.93,315.26" fill="#38ca2a"/>
<polygon points="131.59,301.08 135.57,301.71 135.78,316.68 131.83,315.96" fill="#38ca2a"/>
<polygon points="135.57,301.71 139.60,302.36 139.78,317.41 135.78,316.68" fill="#38ca2a"/>
<polygon points="139.60,302.36 143.68,303.01 143.84,318.14 139.78,317.41" fill="#38ca2a"/>
<polygon points="143.68,303.01 147.82,303.67 147.95,318.89 143.84,318.14" fill="#38ca2a"/>
<polygon points="147.82,303.67 152.01,304.34 152.11,319.64 147.95,318.89" fill="#38ca2a"/>
<polygon points="152.01,304.34 156.25,305.02 156.33,320.41 152.11,319.64" fill="#38ca2a"/>
<polygon points="156.25,305.02 160.55,305.70 160.59,321.18 156.33,320.41" fill="#38ca2a"/>
<polygon points="160.55,305.70 164.90,306.39 164.92,321.96 160.59,321.18" fill="#38ca2a"/>
<polygon points="164.90,306.39 169.30,307.09 169.29,322.76 164.92,321.96" fill="#38ca2a"/>
<polygon points="169.30,307.09 173.76,307.80 173.72,323.56 169.29,322.76" fill="#38ca2a"/>
<polygon points="127.93,315.26 131.83,315.96 132.07,331.23 128.20,330.43" fill="#38ca2a"/>
<polygon points="131.83,315.96 135.78,316.68 135.99,332.04 132.07,331.23" fill="#38ca2a"/>
<polygon points="135.78,316.68 139.78,317.41 139.97,332.85 135.99,332.04" fill="#38ca2a"/>
<polygon points="139.78,317.41 143.84,318.14 144.00,333.68 139.97,332.85" fill="#38ca2a"/>
<polygon points="143.84,318.14 147.95,318.89 148.08,334.52 144.00,333.68" fill="#38ca2a"/>
<polygon points="147.95,318.89 152.11,319.64 152.21,335.37 148.08,334.52" fill="#38ca2a"/>
<polygon points="152.11,319.64 156.33,320.41 156.40,336.23 152.21,335.37" fill="#38ca2a"/>
<polygon points="156.33,320.41 160.59,321.18 160.64,337.10 156.40,336.23" fill="#38ca2a"/>
<polygon points="160.59,321.18 164.92,321.96 164.93,337.98 160.64,337.10" fill="#38ca2a"/>
<polygon points="164.92,321.96 169.29,322.76 169.28,338.88 164.93,337.98" fill="#38ca2a"/>
<polygon points="169.29,322.76 173.72,323.56 173.68,339.78 169.28,338.88" fill="#38ca2a"/>
<polygon points="128.20,330.43 132.07,331.23 132.30,345.85 128.45,345.02" fill="#38ca2a"/>
<polygon points="132.07,331.23 135.99,332.04 136.19,346.70 132.30,345.85" fill="#38ca2a"/>
<polygon points="135.99,332.04 139.97,332.85 140.15,347.56 136.19,346.70" fill="#38ca2a"/>
<polygon points="139.97,332.85 144.00,333.68 144.15,348.43 140.15,347.56" fill="#38ca2a"/>
<polygon points="144.00,333.68 148.08,334.52 148.20,349.31 144.15,348.43" fill="#38ca2a"/>
<polygon points="148.08,334.52 152.21,335.37 152.31,350.20 148.20,349.31" fill="#38ca2a"/>
<polygon points="152.21,335.37 156.40,336.23 156.47,351.11 152.31,350.20" fill="#38ca2a"/>
<polygon points="156.40,336.23 160.64,337.10 160.69,352.02 156.47,351.11" fill="#38ca2a"/>
<polygon points="160.64,337.10 164.93,337.98 164.95,352.95 160.69,352.02" fill="#38ca2a"/>
<polygon points="164.93,337.98 169.28,338.88 169.27,353.89 164.95,352.95" fill="#38ca2a"/>
<polygon points="169.28,338.88 173.68,339.78 173.64,354.83 169.27,353.89" fill="#38ca2a"/>
<polygon points="128.45,345.02 132.30,345.85 132.52,360.23 128.70,359.30" fill="#18c636"/>
<polygon points="132.30,345.85 136.19,346.70 136.40,361.17 132.52,360.23" fill="#18c636"/>
<polygon points="136.19,346.70 140.15,347.56 140.32,362.12 136.40,361.17" fill="#18c636"/>
<polygon points="140.15,347.56 144.15,348.43 144.30,363.09 140.32,362.12" fill="#18c636"/>
<polygon points="144.15,348.43 148.20,349.31 148.33,364.07 144.30,363.09" fill="#18c636"/>
<polygon points="148.20,349.31 152.31,350.20 152.41,365.06 148.33,364.07" fill="#18c636"/>
<polygon points="152.31,350.20 156.47,351.11 156.55,366.06 152.41,365.06" fill="#18c636"/>
<polygon points="156.47,351.11 160.69,352.02 160.73,367.08 156.55,366.06" fill="#18c636"/>
<polygon points="160.69,352.02 164.95,352.95 164.97,368.10 160.73,367.08" fill="#18c636"/>
<polygon points="164.95,352.95 169.27,353.89 169.26,369.15 164.97,368.10" fill="#18c636"/>
<polygon points="169.27,353.89 173.64,354.83 173.60,370.20 169.26,369.15" fill="#18c636"/>
<path d="M127.40 284.90L128.70 359.30" stroke="#000" stroke-width="1.00" fill="none" stroke-linecap="square"/>
<path d="M131.35 285.52L132.52 360.23M135.35 286.15L136.40 361.17M139.41 286.79L140.32 362.12M143.52 287.44L144.30 363.09M147.69 288.09L148.33 364.07M151.90 288.76L152.41 365.06M156.18 289.43L156.55 366.06M160.50 290.11L160.73 367.08M164.88 290.80L164.97 368.10M169.31 291.49L169.26 369.15M173.80 292.20L173.60 370.20" stroke="#000" stroke-width="1.50" fill="none" stroke-linecap="square"/>
<path d="M127.40 284.90L173.80 292.20M127.67 300.45L173.76 307.80M127.93 315.26L173.72 323.56M128.20 330.43L173.68 339.78M128.45 345.02L173.64 354.83M128.70 359.30L173.60 370.20" stroke="#000" stroke-width="0.90" fill="none" stroke-linecap="square"/>
<polygon points="173.80,292.20 179.70,291.58 179.63,307.34 173.76,307.80" fill="#18c636"/>
<polygon points="179.70,291.58 186.00,290.92 185.89,306.84 179.63,307.34" fill="#18c636"/>
<polygon points="186.00,290.92 190.56,290.44 190.42,306.49 185.89,306.84" fill="#46601a"/>
<polygon points="190.56,290.44 196.51,289.81 196.34,306.02 190.42,306.49" fill="#18c636"/>
<polygon points="196.51,289.81 202.30,289.20 202.09,305.56 196.34,306.02" fill="#18c636"/>
<polygon points="173.76,307.80 179.63,307.34 179.55,323.01 173.72,323.56" fill="#18c636"/>
<polygon points="179.63,307.34 185.89,306.84 185.78,322.43 179.55,323.01" fill="#18c636"/>
<polygon points="185.89,306.84 190.42,306.49 190.28,322.01 185.78,322.43" fill="#46601a"/>
<polygon points="190.42,306.49 196.34,306.02 196.17,321.46 190.28,322.01" fill="#18c636"/>
<polygon points="196.34,306.02 202.09,305.56 201.89,320.92 196.17,321.46" fill="#18c636"/>
<polygon points="173.72,323.56 179.55,323.01 179.48,339.06 173.68,339.78" fill="#18c636"/>
<polygon points="179.55,323.01 185.78,322.43 185.67,338.28 179.48,339.06" fill="#18c636"/>
<polygon points="185.78,322.43 190.28,322.01 190.15,337.72 185.67,338.28" fill="#46601a"/>
<polygon points="190.28,322.01 196.17,321.46 196.00,336.99 190.15,337.72" fill="#18c636"/>
<polygon points="196.17,321.46 201.89,320.92 201.69,336.28 196.00,336.99" fill="#18c636"/>
<polygon points="173.68,339.78 179.48,339.06 179.41,354.08 173.64,354.83" fill="#18c636"/>
<polygon points="179.48,339.06 185.67,338.28 185.56,353.27 179.41,354.08" fill="#18c636"/>
<polygon points="185.67,338.28 190.15,337.72 190.02,352.69 185.56,353.27" fill="#46601a"/>
<polygon points="190.15,337.72 196.00,336.99 195.84,351.92 190.02,352.69" fill="#18c636"/>
<polygon points="196.00,336.99 201.69,336.28 201.49,351.18 195.84,351.92" fill="#18c636"/>
<polygon points="173.64,354.83 179.41,354.08 179.33,369.33 173.60,370.20" fill="#18c636"/>
<polygon points="179.41,354.08 185.56,353.27 185.46,368.40 179.33,369.33" fill="#18c636"/>
<polygon points="185.56,353.27 190.02,352.69 189.89,367.73 185.46,368.40" fill="#46601a"/>
<polygon points="190.02,352.69 195.84,351.92 195.68,366.85 189.89,367.73" fill="#18c636"/>
<polygon points="195.84,351.92 201.49,351.18 201.30,366.00 195.68,366.85" fill="#18c636"/>
<path d="M173.80 292.20L173.60 370.20" stroke="#000" stroke-width="1.50" fill="none" stroke-linecap="square"/>
<path d="M179.70 291.58L179.33 369.33M196.51 289.81L195.68 366.85" stroke="#000" stroke-width="1.45" fill="none" stroke-linecap="square"/>
<path d="M186.00 290.92L185.46 368.40M190.56 290.44L189.89 367.73" stroke="#000" stroke-width="1.25" fill="none" stroke-linecap="square"/>
<path d="M202.30 289.20L201.30 366.00" stroke="#000" stroke-width="1.00" fill="none" stroke-linecap="square"/>
<path d="M173.80 292.20L202.30 289.20M173.76 307.80L202.09 305.56M173.72 323.56L201.89 320.92M173.68 339.78L201.69 336.28M173.64 354.83L201.49 351.18M173.60 370.20L201.30 366.00" stroke="#000" stroke-width="0.90" fill="none" stroke-linecap="square"/>
<path d="M127.70 301.92L131.80 314.49M135.59 303.20L139.76 315.92M127.96 316.71L132.04 329.76M131.85 317.43L135.97 330.56M139.80 318.89L143.98 332.19M143.85 319.64L148.07 333.02M128.22 331.94L132.27 344.34M136.17 345.18L139.99 334.38M144.01 335.21L148.19 347.78M148.09 336.05L152.30 348.67M132.32 347.31L136.38 359.70" stroke="#000" stroke-opacity="0.3" stroke-width="1.2" fill="none"/>
<path d="M179.69 293.15L185.90 305.25M190.43 304.88L196.50 291.43M179.41 352.52L185.66 339.84M190.13 339.27L195.86 350.37M179.34 367.78L185.55 354.81" stroke="#000" stroke-opacity="0.3" stroke-width="1.1" fill="none"/>
<path d="M127.40 285.00L173.80 292.30L202.30 289.30" stroke="#000" stroke-width="1.2" fill="none" stroke-linejoin="round"/>
<polygon points="127.40,284.90 154.90,281.80 202.30,289.20 201.30,366.00 173.60,370.20 128.70,359.30" fill="none" stroke="#000" stroke-width="0.8" stroke-linejoin="round"/>
<polygon points="229.60,288.50 257.60,285.30 304.90,292.40 276.90,295.00" fill="#060a04"/>
<path d="M235.11 288.41L256.39 286.00" stroke="#e6ca1c" stroke-width="0.8" stroke-opacity="0.12"/>
<path d="M239.41 289.01L260.69 286.64" stroke="#e6ca1c" stroke-width="0.8" stroke-opacity="0.12"/>
<path d="M243.71 289.61L264.99 287.28" stroke="#e6ca1c" stroke-width="0.8" stroke-opacity="0.12"/>
<path d="M248.01 290.21L269.29 287.92" stroke="#e6ca1c" stroke-width="0.8" stroke-opacity="0.12"/>
<path d="M252.31 290.80L273.59 288.56" stroke="#e6ca1c" stroke-width="0.8" stroke-opacity="0.12"/>
<path d="M256.61 291.40L277.89 289.20" stroke="#e6ca1c" stroke-width="0.8" stroke-opacity="0.12"/>
<path d="M260.91 292.00L282.19 289.84" stroke="#e6ca1c" stroke-width="0.8" stroke-opacity="0.12"/>
<path d="M265.21 292.60L286.49 290.48" stroke="#e6ca1c" stroke-width="0.8" stroke-opacity="0.12"/>
<path d="M269.51 293.19L290.79 291.11" stroke="#e6ca1c" stroke-width="0.8" stroke-opacity="0.12"/>
<path d="M273.81 293.79L295.09 291.75" stroke="#e6ca1c" stroke-width="0.8" stroke-opacity="0.12"/>
<path d="M278.11 294.39L299.39 292.39" stroke="#e6ca1c" stroke-width="0.8" stroke-opacity="0.12"/>
<polygon points="229.60,288.50 233.63,289.05 233.82,304.62 229.83,304.05" fill="#e6ca1c"/>
<polygon points="233.63,289.05 237.71,289.61 237.87,305.21 233.82,304.62" fill="#e6ca1c"/>
<polygon points="237.71,289.61 241.84,290.18 241.97,305.79 237.87,305.21" fill="#e6ca1c"/>
<polygon points="241.84,290.18 246.03,290.76 246.12,306.39 241.97,305.79" fill="#e6ca1c"/>
<polygon points="246.03,290.76 250.28,291.34 250.33,306.99 246.12,306.39" fill="#e6ca1c"/>
<polygon points="250.28,291.34 254.58,291.93 254.60,307.60 250.33,306.99" fill="#e6ca1c"/>
<polygon points="254.58,291.93 258.93,292.53 258.92,308.22 254.60,307.60" fill="#e6ca1c"/>
<polygon points="258.93,292.53 263.34,293.14 263.29,308.84 258.92,308.22" fill="#e6ca1c"/>
<polygon points="263.34,293.14 267.81,293.75 267.72,309.48 263.29,308.84" fill="#e6ca1c"/>
<polygon points="267.81,293.75 272.33,294.37 272.20,310.11 267.72,309.48" fill="#e6ca1c"/>
<polygon points="272.33,294.37 276.90,295.00 276.74,310.76 272.20,310.11" fill="#e6ca1c"/>
<polygon points="229.83,304.05 233.82,304.62 234.01,319.52 230.05,318.86" fill="#e07210"/>
<polygon points="233.82,304.62 237.87,305.21 238.02,320.20 234.01,319.52" fill="#e07210"/>
<polygon points="237.87,305.21 241.97,305.79 242.09,320.89 238.02,320.20" fill="#e07210"/>
<polygon points="241.97,305.79 246.12,306.39 246.21,321.58 242.09,320.89" fill="#e07210"/>
<polygon points="246.12,306.39 250.33,306.99 250.39,322.28 246.21,321.58" fill="#e07210"/>
<polygon points="250.33,306.99 254.60,307.60 254.62,322.99 250.39,322.28" fill="#e07210"/>
<polygon points="254.60,307.60 258.92,308.22 258.90,323.71 254.62,322.99" fill="#e07210"/>
<polygon points="258.92,308.22 263.29,308.84 263.24,324.44 258.90,323.71" fill="#e07210"/>
<polygon points="263.29,308.84 267.72,309.48 267.63,325.18 263.24,324.44" fill="#e07210"/>
<polygon points="267.72,309.48 272.20,310.11 272.08,325.92 267.63,325.18" fill="#e07210"/>
<polygon points="272.20,310.11 276.74,310.76 276.58,326.68 272.08,325.92" fill="#e07210"/>
<polygon points="230.05,318.86 234.01,319.52 234.20,334.80 230.27,334.03" fill="#d40e0a"/>
<polygon points="234.01,319.52 238.02,320.20 238.18,335.58 234.20,334.80" fill="#d40e0a"/>
<polygon points="238.02,320.20 242.09,320.89 242.22,336.37 238.18,335.58" fill="#d40e0a"/>
<polygon points="242.09,320.89 246.21,321.58 246.30,337.17 242.22,336.37" fill="#d40e0a"/>
<polygon points="246.21,321.58 250.39,322.28 250.44,337.99 246.30,337.17" fill="#d40e0a"/>
<polygon points="250.39,322.28 254.62,322.99 254.64,338.81 250.44,337.99" fill="#d40e0a"/>
<polygon points="254.62,322.99 258.90,323.71 258.89,339.64 254.64,338.81" fill="#d40e0a"/>
<polygon points="258.90,323.71 263.24,324.44 263.19,340.48 258.89,339.64" fill="#d40e0a"/>
<polygon points="263.24,324.44 267.63,325.18 267.54,341.33 263.19,340.48" fill="#d40e0a"/>
<polygon points="267.63,325.18 272.08,325.92 271.95,342.20 267.54,341.33" fill="#d40e0a"/>
<polygon points="272.08,325.92 276.58,326.68 276.41,343.07 271.95,342.20" fill="#d40e0a"/>
<polygon points="230.27,334.03 234.20,334.80 234.38,349.44 230.49,348.62" fill="#e07210"/>
<polygon points="234.20,334.80 238.18,335.58 238.33,350.27 234.38,349.44" fill="#e07210"/>
<polygon points="238.18,335.58 242.22,336.37 242.33,351.12 238.33,350.27" fill="#e07210"/>
<polygon points="242.22,336.37 246.30,337.17 246.39,351.98 242.33,351.12" fill="#e07210"/>
<polygon points="246.30,337.17 250.44,337.99 250.50,352.84 246.39,351.98" fill="#e07210"/>
<polygon points="250.44,337.99 254.64,338.81 254.66,353.72 250.50,352.84" fill="#e07210"/>
<polygon points="254.64,338.81 258.89,339.64 258.87,354.61 254.66,353.72" fill="#e07210"/>
<polygon points="258.89,339.64 263.19,340.48 263.14,355.51 258.87,354.61" fill="#e07210"/>
<polygon points="263.19,340.48 267.54,341.33 267.46,356.42 263.14,355.51" fill="#e07210"/>
<polygon points="267.54,341.33 271.95,342.20 271.83,357.34 267.46,356.42" fill="#e07210"/>
<polygon points="271.95,342.20 276.41,343.07 276.26,358.28 271.83,357.34" fill="#e07210"/>
<polygon points="230.49,348.62 234.38,349.44 234.56,363.83 230.70,362.90" fill="#e6ca1c"/>
<polygon points="234.38,349.44 238.33,350.27 238.48,364.77 234.56,363.83" fill="#e6ca1c"/>
<polygon points="238.33,350.27 242.33,351.12 242.45,365.72 238.48,364.77" fill="#e6ca1c"/>
<polygon points="242.33,351.12 246.39,351.98 246.47,366.69 242.45,365.72" fill="#e6ca1c"/>
<polygon points="246.39,351.98 250.50,352.84 250.55,367.67 246.47,366.69" fill="#e6ca1c"/>
<polygon points="250.50,352.84 254.66,353.72 254.68,368.66 250.55,367.67" fill="#e6ca1c"/>
<polygon points="254.66,353.72 258.87,354.61 258.86,369.66 254.68,368.66" fill="#e6ca1c"/>
<polygon points="258.87,354.61 263.14,355.51 263.09,370.68 258.86,369.66" fill="#e6ca1c"/>
<polygon points="263.14,355.51 267.46,356.42 267.37,371.70 263.09,370.68" fill="#e6ca1c"/>
<polygon points="267.46,356.42 271.83,357.34 271.71,372.75 267.37,371.70" fill="#e6ca1c"/>
<polygon points="271.83,357.34 276.26,358.28 276.10,373.80 271.71,372.75" fill="#e6ca1c"/>
<path d="M229.60 288.50L230.70 362.90" stroke="#000" stroke-width="1.00" fill="none" stroke-linecap="square"/>
<path d="M233.63 289.05L234.56 363.83M237.71 289.61L238.48 364.77M241.84 290.18L242.45 365.72M246.03 290.76L246.47 366.69M250.28 291.34L250.55 367.67M254.58 291.93L254.68 368.66M258.93 292.53L258.86 369.66M263.34 293.14L263.09 370.68M267.81 293.75L267.37 371.70M272.33 294.37L271.71 372.75M276.90 295.00L276.10 373.80" stroke="#000" stroke-width="1.50" fill="none" stroke-linecap="square"/>
<path d="M229.60 288.50L276.90 295.00M229.83 304.05L276.74 310.76M230.05 318.86L276.58 326.68M230.27 334.03L276.41 343.07M230.49 348.62L276.26 358.28M230.70 362.90L276.10 373.80" stroke="#000" stroke-width="0.90" fill="none" stroke-linecap="square"/>
<polygon points="276.90,295.00 282.70,294.46 282.50,310.38 276.74,310.76" fill="#e6ca1c"/>
<polygon points="282.70,294.46 288.88,293.89 288.66,309.97 282.50,310.38" fill="#e07210"/>
<polygon points="288.88,293.89 293.36,293.47 293.11,309.67 288.66,309.97" fill="#760c08"/>
<polygon points="293.36,293.47 299.22,292.93 298.93,309.29 293.11,309.67" fill="#e07210"/>
<polygon points="299.22,292.93 304.90,292.40 304.58,308.91 298.93,309.29" fill="#e6ca1c"/>
<polygon points="276.74,310.76 282.50,310.38 282.31,326.21 276.58,326.68" fill="#e07210"/>
<polygon points="282.50,310.38 288.66,309.97 288.44,325.71 282.31,326.21" fill="#e07210"/>
<polygon points="288.66,309.97 293.11,309.67 292.87,325.35 288.44,325.71" fill="#6a300e"/>
<polygon points="293.11,309.67 298.93,309.29 298.66,324.87 292.87,325.35" fill="#e07210"/>
<polygon points="298.93,309.29 304.58,308.91 304.28,324.41 298.66,324.87" fill="#e07210"/>
<polygon points="276.58,326.68 282.31,326.21 282.12,342.41 276.41,343.07" fill="#d40e0a"/>
<polygon points="282.31,326.21 288.44,325.71 288.21,341.72 282.12,342.41" fill="#d40e0a"/>
<polygon points="288.44,325.71 292.87,325.35 292.62,341.21 288.21,341.72" fill="#760c08"/>
<polygon points="292.87,325.35 298.66,324.87 298.38,340.55 292.62,341.21" fill="#d40e0a"/>
<polygon points="298.66,324.87 304.28,324.41 303.98,339.91 298.38,340.55" fill="#d40e0a"/>
<polygon points="276.41,343.07 282.12,342.41 281.94,357.59 276.26,358.28" fill="#e07210"/>
<polygon points="282.12,342.41 288.21,341.72 288.00,356.85 281.94,357.59" fill="#e07210"/>
<polygon points="288.21,341.72 292.62,341.21 292.39,356.32 288.00,356.85" fill="#6a300e"/>
<polygon points="292.62,341.21 298.38,340.55 298.12,355.62 292.39,356.32" fill="#e07210"/>
<polygon points="298.38,340.55 303.98,339.91 303.69,354.94 298.12,355.62" fill="#e07210"/>
<polygon points="276.26,358.28 281.94,357.59 281.75,372.99 276.10,373.80" fill="#e6ca1c"/>
<polygon points="281.94,357.59 288.00,356.85 287.78,372.13 281.75,372.99" fill="#e07210"/>
<polygon points="288.00,356.85 292.39,356.32 292.15,371.51 287.78,372.13" fill="#6a300e"/>
<polygon points="292.39,356.32 298.12,355.62 297.86,370.69 292.15,371.51" fill="#e07210"/>
<polygon points="298.12,355.62 303.69,354.94 303.40,369.90 297.86,370.69" fill="#e6ca1c"/>
<path d="M276.90 295.00L276.10 373.80" stroke="#000" stroke-width="1.50" fill="none" stroke-linecap="square"/>
<path d="M282.70 294.46L281.75 372.99M299.22 292.93L297.86 370.69" stroke="#000" stroke-width="1.45" fill="none" stroke-linecap="square"/>
<path d="M288.88 293.89L287.78 372.13M293.36 293.47L292.15 371.51" stroke="#000" stroke-width="1.25" fill="none" stroke-linecap="square"/>
<path d="M304.90 292.40L303.40 369.90" stroke="#000" stroke-width="1.00" fill="none" stroke-linecap="square"/>
<path d="M276.90 295.00L304.90 292.40M276.74 310.76L304.58 308.91M276.58 326.68L304.28 324.41M276.41 343.07L303.98 339.91M276.26 358.28L303.69 354.94M276.10 373.80L303.40 369.90" stroke="#000" stroke-width="0.90" fill="none" stroke-linecap="square"/>
<path d="M229.85 305.52L233.99 318.05M237.88 306.69L242.08 319.39M230.07 320.31L234.18 333.33M234.03 320.99L238.17 334.10M242.10 322.37L246.29 335.67M246.22 323.08L250.44 336.48M230.30 335.54L234.37 347.92M238.32 348.75L242.23 337.90M246.31 338.71L250.49 351.30M250.45 339.52L254.65 352.18M234.40 350.90L238.47 363.30" stroke="#000" stroke-opacity="0.3" stroke-width="1.2" fill="none"/>
<path d="M282.68 296.05L288.68 308.36M293.14 308.05L299.19 294.56M281.96 356.01L288.19 343.28M292.60 342.78L298.15 354.06M281.77 371.43L287.98 358.40" stroke="#000" stroke-opacity="0.3" stroke-width="1.1" fill="none"/>
<path d="M229.60 288.60L276.90 295.10L304.90 292.50" stroke="#000" stroke-width="1.2" fill="none" stroke-linejoin="round"/>
<polygon points="229.60,288.50 257.60,285.30 304.90,292.40 303.40,369.90 276.10,373.80 230.70,362.90" fill="none" stroke="#000" stroke-width="0.8" stroke-linejoin="round"/>
<polygon points="331.30,290.10 360.00,287.00 406.40,294.70 377.60,297.40" fill="#060a04"/>
<path d="M336.85 290.06L358.66 287.72" stroke="#dc7414" stroke-width="0.8" stroke-opacity="0.12"/>
<path d="M341.06 290.73L362.88 288.42" stroke="#dc7414" stroke-width="0.8" stroke-opacity="0.12"/>
<path d="M345.27 291.40L367.10 289.11" stroke="#dc7414" stroke-width="0.8" stroke-opacity="0.12"/>
<path d="M349.48 292.07L371.32 289.81" stroke="#dc7414" stroke-width="0.8" stroke-opacity="0.12"/>
<path d="M353.69 292.73L375.53 290.50" stroke="#dc7414" stroke-width="0.8" stroke-opacity="0.12"/>
<path d="M357.90 293.40L379.75 291.20" stroke="#dc7414" stroke-width="0.8" stroke-opacity="0.12"/>
<path d="M362.11 294.07L383.97 291.89" stroke="#dc7414" stroke-width="0.8" stroke-opacity="0.12"/>
<path d="M366.32 294.74L388.18 292.59" stroke="#dc7414" stroke-width="0.8" stroke-opacity="0.12"/>
<path d="M370.53 295.41L392.40 293.28" stroke="#dc7414" stroke-width="0.8" stroke-opacity="0.12"/>
<path d="M374.74 296.07L396.62 293.98" stroke="#dc7414" stroke-width="0.8" stroke-opacity="0.12"/>
<path d="M378.95 296.74L400.84 294.68" stroke="#dc7414" stroke-width="0.8" stroke-opacity="0.12"/>
<polygon points="331.30,290.10 335.24,290.72 335.47,306.31 331.55,305.69" fill="#dc7414"/>
<polygon points="335.24,290.72 339.24,291.35 339.44,306.93 335.47,306.31" fill="#dc7414"/>
<polygon points="339.24,291.35 343.28,291.99 343.46,307.57 339.44,306.93" fill="#dc7414"/>
<polygon points="343.28,291.99 347.39,292.64 347.53,308.21 343.46,307.57" fill="#dc7414"/>
<polygon points="347.39,292.64 351.54,293.29 351.66,308.86 347.53,308.21" fill="#dc7414"/>
<polygon points="351.54,293.29 355.75,293.96 355.85,309.52 351.66,308.86" fill="#dc7414"/>
<polygon points="355.75,293.96 360.01,294.63 360.08,310.18 355.85,309.52" fill="#dc7414"/>
<polygon points="360.01,294.63 364.33,295.31 364.37,310.85 360.08,310.18" fill="#dc7414"/>
<polygon points="364.33,295.31 368.70,296.00 368.71,311.53 364.37,310.85" fill="#dc7414"/>
<polygon points="368.70,296.00 373.12,296.69 373.11,312.22 368.71,311.53" fill="#dc7414"/>
<polygon points="373.12,296.69 377.60,297.40 377.56,312.92 373.11,312.22" fill="#dc7414"/>
<polygon points="331.55,305.69 335.47,306.31 335.68,321.22 331.79,320.54" fill="#d40e0a"/>
<polygon points="335.47,306.31 339.44,306.93 339.63,321.92 335.68,321.22" fill="#d40e0a"/>
<polygon points="339.44,306.93 343.46,307.57 343.62,322.63 339.63,321.92" fill="#d40e0a"/>
<polygon points="343.46,307.57 347.53,308.21 347.68,323.34 343.62,322.63" fill="#d40e0a"/>
<polygon points="347.53,308.21 351.66,308.86 351.78,324.06 347.68,323.34" fill="#d40e0a"/>
<polygon points="351.66,308.86 355.85,309.52 355.94,324.80 351.78,324.06" fill="#d40e0a"/>
<polygon points="355.85,309.52 360.08,310.18 360.15,325.54 355.94,324.80" fill="#d40e0a"/>
<polygon points="360.08,310.18 364.37,310.85 364.41,326.29 360.15,325.54" fill="#d40e0a"/>
<polygon points="364.37,310.85 368.71,311.53 368.73,327.05 364.41,326.29" fill="#d40e0a"/>
<polygon points="368.71,311.53 373.11,312.22 373.10,327.82 368.73,327.05" fill="#d40e0a"/>
<polygon points="373.11,312.22 377.56,312.92 377.52,328.60 373.10,327.82" fill="#d40e0a"/>
<polygon points="331.79,320.54 335.68,321.22 335.90,336.52 332.03,335.76" fill="#d40e0a"/>
<polygon points="335.68,321.22 339.63,321.92 339.82,337.30 335.90,336.52" fill="#d40e0a"/>
<polygon points="339.63,321.92 343.62,322.63 343.80,338.08 339.82,337.30" fill="#d40e0a"/>
<polygon points="343.62,322.63 347.68,323.34 347.82,338.88 343.80,338.08" fill="#d40e0a"/>
<polygon points="347.68,323.34 351.78,324.06 351.90,339.68 347.82,338.88" fill="#d40e0a"/>
<polygon points="351.78,324.06 355.94,324.80 356.03,340.50 351.90,339.68" fill="#d40e0a"/>
<polygon points="355.94,324.80 360.15,325.54 360.22,341.33 356.03,340.50" fill="#d40e0a"/>
<polygon points="360.15,325.54 364.41,326.29 364.45,342.16 360.22,341.33" fill="#d40e0a"/>
<polygon points="364.41,326.29 368.73,327.05 368.74,343.01 364.45,342.16" fill="#d40e0a"/>
<polygon points="368.73,327.05 373.10,327.82 373.08,343.87 368.74,343.01" fill="#d40e0a"/>
<polygon points="373.10,327.82 377.52,328.60 377.48,344.74 373.08,343.87" fill="#d40e0a"/>
<polygon points="332.03,335.76 335.90,336.52 336.11,351.17 332.27,350.38" fill="#d40e0a"/>
<polygon points="335.90,336.52 339.82,337.30 340.01,351.98 336.11,351.17" fill="#d40e0a"/>
<polygon points="339.82,337.30 343.80,338.08 343.96,352.80 340.01,351.98" fill="#d40e0a"/>
<polygon points="343.80,338.08 347.82,338.88 347.96,353.62 343.96,352.80" fill="#d40e0a"/>
<polygon points="347.82,338.88 351.90,339.68 352.02,354.46 347.96,353.62" fill="#d40e0a"/>
<polygon points="351.90,339.68 356.03,340.50 356.12,355.31 352.02,354.46" fill="#d40e0a"/>
<polygon points="356.03,340.50 360.22,341.33 360.28,356.17 356.12,355.31" fill="#d40e0a"/>
<polygon points="360.22,341.33 364.45,342.16 364.49,357.04 360.28,356.17" fill="#d40e0a"/>
<polygon points="364.45,342.16 368.74,343.01 368.76,357.92 364.49,357.04" fill="#d40e0a"/>
<polygon points="368.74,343.01 373.08,343.87 373.07,358.81 368.76,357.92" fill="#d40e0a"/>
<polygon points="373.08,343.87 377.48,344.74 377.44,359.71 373.07,358.81" fill="#d40e0a"/>
<polygon points="332.27,350.38 336.11,351.17 336.32,365.58 332.50,364.70" fill="#dc7414"/>
<polygon points="336.11,351.17 340.01,351.98 340.20,366.47 336.32,365.58" fill="#dc7414"/>
<polygon points="340.01,351.98 343.96,352.80 344.12,367.37 340.20,366.47" fill="#dc7414"/>
<polygon points="343.96,352.80 347.96,353.62 348.10,368.28 344.12,367.37" fill="#dc7414"/>
<polygon points="347.96,353.62 352.02,354.46 352.13,369.20 348.10,368.28" fill="#dc7414"/>
<polygon points="352.02,354.46 356.12,355.31 356.21,370.14 352.13,369.20" fill="#dc7414"/>
<polygon points="356.12,355.31 360.28,356.17 360.35,371.09 356.21,370.14" fill="#dc7414"/>
<polygon points="360.28,356.17 364.49,357.04 364.53,372.05 360.35,371.09" fill="#dc7414"/>
<polygon points="364.49,357.04 368.76,357.92 368.77,373.02 364.53,372.05" fill="#dc7414"/>
<polygon points="368.76,357.92 373.07,358.81 373.06,374.00 368.77,373.02" fill="#dc7414"/>
<polygon points="373.07,358.81 377.44,359.71 377.40,375.00 373.06,374.00" fill="#dc7414"/>
<path d="M331.30 290.10L332.50 364.70" stroke="#000" stroke-width="1.00" fill="none" stroke-linecap="square"/>
<path d="M335.24 290.72L336.32 365.58M339.24 291.35L340.20 366.47M343.28 291.99L344.12 367.37M347.39 292.64L348.10 368.28M351.54 293.29L352.13 369.20M355.75 293.96L356.21 370.14M360.01 294.63L360.35 371.09M364.33 295.31L364.53 372.05M368.70 296.00L368.77 373.02M373.12 296.69L373.06 374.00M377.60 297.40L377.40 375.00" stroke="#000" stroke-width="1.50" fill="none" stroke-linecap="square"/>
<path d="M331.30 290.10L377.60 297.40M331.55 305.69L377.56 312.92M331.79 320.54L377.52 328.60M332.03 335.76L377.48 344.74M332.27 350.38L377.44 359.71M332.50 364.70L377.40 375.00" stroke="#000" stroke-width="0.90" fill="none" stroke-linecap="square"/>
<polygon points="377.60,297.40 383.56,296.84 383.48,312.50 377.56,312.92" fill="#dc7414"/>
<polygon points="383.56,296.84 389.93,296.24 389.80,312.06 383.48,312.50" fill="#d40e0a"/>
<polygon points="389.93,296.24 394.53,295.81 394.37,311.73 389.80,312.06" fill="#760c08"/>
<polygon points="394.53,295.81 400.55,295.25 400.34,311.30 394.37,311.73" fill="#d40e0a"/>
<polygon points="400.55,295.25 406.40,294.70 406.14,310.89 400.34,311.30" fill="#dc7414"/>
<polygon points="377.56,312.92 383.48,312.50 383.40,328.08 377.52,328.60" fill="#d40e0a"/>
<polygon points="383.48,312.50 389.80,312.06 389.67,327.53 383.40,328.08" fill="#d40e0a"/>
<polygon points="389.80,312.06 394.37,311.73 394.21,327.13 389.67,327.53" fill="#760c08"/>
<polygon points="394.37,311.73 400.34,311.30 400.14,326.60 394.21,327.13" fill="#d40e0a"/>
<polygon points="400.34,311.30 406.14,310.89 405.90,326.09 400.14,326.60" fill="#d40e0a"/>
<polygon points="377.52,328.60 383.40,328.08 383.31,344.02 377.48,344.74" fill="#d40e0a"/>
<polygon points="383.40,328.08 389.67,327.53 389.54,343.26 383.31,344.02" fill="#d40e0a"/>
<polygon points="389.67,327.53 394.21,327.13 394.05,342.71 389.54,343.26" fill="#760c08"/>
<polygon points="394.21,327.13 400.14,326.60 399.94,341.99 394.05,342.71" fill="#d40e0a"/>
<polygon points="400.14,326.60 405.90,326.09 405.66,341.29 399.94,341.99" fill="#d40e0a"/>
<polygon points="377.48,344.74 383.31,344.02 383.23,358.95 377.44,359.71" fill="#d40e0a"/>
<polygon points="383.31,344.02 389.54,343.26 389.42,358.14 383.23,358.95" fill="#d40e0a"/>
<polygon points="389.54,343.26 394.05,342.71 393.90,357.55 389.42,358.14" fill="#760c08"/>
<polygon points="394.05,342.71 399.94,341.99 399.75,356.78 393.90,357.55" fill="#d40e0a"/>
<polygon points="399.94,341.99 405.66,341.29 405.43,356.03 399.75,356.78" fill="#d40e0a"/>
<polygon points="377.44,359.71 383.23,358.95 383.15,374.11 377.40,375.00" fill="#dc7414"/>
<polygon points="383.23,358.95 389.42,358.14 389.30,373.16 383.15,374.11" fill="#d40e0a"/>
<polygon points="389.42,358.14 393.90,357.55 393.75,372.47 389.30,373.16" fill="#760c08"/>
<polygon points="393.90,357.55 399.75,356.78 399.56,371.57 393.75,372.47" fill="#d40e0a"/>
<polygon points="399.75,356.78 405.43,356.03 405.20,370.70 399.56,371.57" fill="#dc7414"/>
<path d="M377.60 297.40L377.40 375.00" stroke="#000" stroke-width="1.50" fill="none" stroke-linecap="square"/>
<path d="M383.56 296.84L383.15 374.11M400.55 295.25L399.56 371.57" stroke="#000" stroke-width="1.45" fill="none" stroke-linecap="square"/>
<path d="M389.93 296.24L389.30 373.16M394.53 295.81L393.75 372.47" stroke="#000" stroke-width="1.25" fill="none" stroke-linecap="square"/>
<path d="M406.40 294.70L405.20 370.70" stroke="#000" stroke-width="1.00" fill="none" stroke-linecap="square"/>
<path d="M377.60 297.40L406.40 294.70M377.56 312.92L406.14 310.89M377.52 328.60L405.90 326.09M377.48 344.74L405.66 341.29M377.44 359.71L405.43 356.03M377.40 375.00L405.20 370.70" stroke="#000" stroke-width="0.90" fill="none" stroke-linecap="square"/>
<path d="M331.57 307.16L335.66 319.75M339.45 308.42L343.61 321.14M331.81 322.00L335.88 335.05M335.70 322.69L339.80 335.82M343.64 324.11L347.81 337.38M347.69 324.83L351.89 338.18M332.06 337.27L336.09 349.65M339.99 350.46L343.81 339.61M347.84 340.41L352.00 352.93M351.91 341.21L356.11 353.78M336.14 352.64L340.18 364.99" stroke="#000" stroke-opacity="0.3" stroke-width="1.2" fill="none"/>
<path d="M383.55 298.41L389.81 310.47M394.39 310.14L400.53 296.85M383.24 357.40L389.53 344.80M394.04 344.25L399.77 355.25M383.16 372.57L389.41 359.66" stroke="#000" stroke-opacity="0.3" stroke-width="1.1" fill="none"/>
<path d="M331.30 290.20L377.60 297.50L406.40 294.80" stroke="#000" stroke-width="1.2" fill="none" stroke-linejoin="round"/>
<polygon points="331.30,290.10 360.00,287.00 406.40,294.70 405.20,370.70 377.40,375.00 332.50,364.70" fill="none" stroke="#000" stroke-width="0.8" stroke-linejoin="round"/>
<polygon points="434.30,290.10 463.00,287.00 509.40,294.70 480.60,297.40" fill="#060a04"/>
<path d="M439.85 290.06L461.66 287.72" stroke="#dc7414" stroke-width="0.8" stroke-opacity="0.12"/>
<path d="M444.06 290.73L465.88 288.42" stroke="#dc7414" stroke-width="0.8" stroke-opacity="0.12"/>
<path d="M448.27 291.40L470.10 289.11" stroke="#dc7414" stroke-width="0.8" stroke-opacity="0.12"/>
<path d="M452.48 292.07L474.32 289.81" stroke="#dc7414" stroke-width="0.8" stroke-opacity="0.12"/>
<path d="M456.69 292.73L478.53 290.50" stroke="#dc7414" stroke-width="0.8" stroke-opacity="0.12"/>
<path d="M460.90 293.40L482.75 291.20" stroke="#dc7414" stroke-width="0.8" stroke-opacity="0.12"/>
<path d="M465.11 294.07L486.97 291.89" stroke="#dc7414" stroke-width="0.8" stroke-opacity="0.12"/>
<path d="M469.32 294.74L491.18 292.59" stroke="#dc7414" stroke-width="0.8" stroke-opacity="0.12"/>
<path d="M473.53 295.41L495.40 293.28" stroke="#dc7414" stroke-width="0.8" stroke-opacity="0.12"/>
<path d="M477.74 296.07L499.62 293.98" stroke="#dc7414" stroke-width="0.8" stroke-opacity="0.12"/>
<path d="M481.95 296.74L503.84 294.68" stroke="#dc7414" stroke-width="0.8" stroke-opacity="0.12"/>
<polygon points="434.30,290.10 438.24,290.72 438.47,306.31 434.55,305.69" fill="#dc7414"/>
<polygon points="438.24,290.72 442.24,291.35 442.44,306.93 438.47,306.31" fill="#dc7414"/>
<polygon points="442.24,291.35 446.28,291.99 446.46,307.57 442.44,306.93" fill="#dc7414"/>
<polygon points="446.28,291.99 450.39,292.64 450.53,308.21 446.46,307.57" fill="#dc7414"/>
<polygon points="450.39,292.64 454.54,293.29 454.66,308.86 450.53,308.21" fill="#dc7414"/>
<polygon points="454.54,293.29 458.75,293.96 458.85,309.52 454.66,308.86" fill="#dc7414"/>
<polygon points="458.75,293.96 463.01,294.63 463.08,310.18 458.85,309.52" fill="#dc7414"/>
<polygon points="463.01,294.63 467.33,295.31 467.37,310.85 463.08,310.18" fill="#dc7414"/>
<polygon points="467.33,295.31 471.70,296.00 471.71,311.53 467.37,310.85" fill="#dc7414"/>
<polygon points="471.70,296.00 476.12,296.69 476.11,312.22 471.71,311.53" fill="#dc7414"/>
<polygon points="476.12,296.69 480.60,297.40 480.56,312.92 476.11,312.22" fill="#dc7414"/>
<polygon points="434.55,305.69 438.47,306.31 438.68,321.22 434.79,320.54" fill="#d40e0a"/>
<polygon points="438.47,306.31 442.44,306.93 442.63,321.92 438.68,321.22" fill="#d40e0a"/>
<polygon points="442.44,306.93 446.46,307.57 446.62,322.63 442.63,321.92" fill="#d40e0a"/>
<polygon points="446.46,307.57 450.53,308.21 450.68,323.34 446.62,322.63" fill="#d40e0a"/>
<polygon points="450.53,308.21 454.66,308.86 454.78,324.06 450.68,323.34" fill="#d40e0a"/>
<polygon points="454.66,308.86 458.85,309.52 458.94,324.80 454.78,324.06" fill="#d40e0a"/>
<polygon points="458.85,309.52 463.08,310.18 463.15,325.54 458.94,324.80" fill="#d40e0a"/>
<polygon points="463.08,310.18 467.37,310.85 467.41,326.29 463.15,325.54" fill="#d40e0a"/>
<polygon points="467.37,310.85 471.71,311.53 471.73,327.05 467.41,326.29" fill="#d40e0a"/>
<polygon points="471.71,311.53 476.11,312.22 476.10,327.82 471.73,327.05" fill="#d40e0a"/>
<polygon points="476.11,312.22 480.56,312.92 480.52,328.60 476.10,327.82" fill="#d40e0a"/>
<polygon points="434.79,320.54 438.68,321.22 438.90,336.52 435.03,335.76" fill="#d40e0a"/>
<polygon points="438.68,321.22 442.63,321.92 442.82,337.30 438.90,336.52" fill="#d40e0a"/>
<polygon points="442.63,321.92 446.62,322.63 446.80,338.08 442.82,337.30" fill="#d40e0a"/>
<polygon points="446.62,322.63 450.68,323.34 450.82,338.88 446.80,338.08" fill="#d40e0a"/>
<polygon points="450.68,323.34 454.78,324.06 454.90,339.68 450.82,338.88" fill="#d40e0a"/>
<polygon points="454.78,324.06 458.94,324.80 459.03,340.50 454.90,339.68" fill="#d40e0a"/>
<polygon points="458.94,324.80 463.15,325.54 463.22,341.33 459.03,340.50" fill="#d40e0a"/>
<polygon points="463.15,325.54 467.41,326.29 467.45,342.16 463.22,341.33" fill="#d40e0a"/>
<polygon points="467.41,326.29 471.73,327.05 471.74,343.01 467.45,342.16" fill="#d40e0a"/>
<polygon points="471.73,327.05 476.10,327.82 476.08,343.87 471.74,343.01" fill="#d40e0a"/>
<polygon points="476.10,327.82 480.52,328.60 480.48,344.74 476.08,343.87" fill="#d40e0a"/>
<polygon points="435.03,335.76 438.90,336.52 439.11,351.17 435.27,350.38" fill="#d40e0a"/>
<polygon points="438.90,336.52 442.82,337.30 443.01,351.98 439.11,351.17" fill="#d40e0a"/>
<polygon points="442.82,337.30 446.80,338.08 446.96,352.80 443.01,351.98" fill="#d40e0a"/>
<polygon points="446.80,338.08 450.82,338.88 450.96,353.62 446.96,352.80" fill="#d40e0a"/>
<polygon points="450.82,338.88 454.90,339.68 455.02,354.46 450.96,353.62" fill="#d40e0a"/>
<polygon points="454.90,339.68 459.03,340.50 459.12,355.31 455.02,354.46" fill="#d40e0a"/>
<polygon points="459.03,340.50 463.22,341.33 463.28,356.17 459.12,355.31" fill="#d40e0a"/>
<polygon points="463.22,341.33 467.45,342.16 467.49,357.04 463.28,356.17" fill="#d40e0a"/>
<polygon points="467.45,342.16 471.74,343.01 471.76,357.92 467.49,357.04" fill="#d40e0a"/>
<polygon points="471.74,343.01 476.08,343.87 476.07,358.81 471.76,357.92" fill="#d40e0a"/>
<polygon points="476.08,343.87 480.48,344.74 480.44,359.71 476.07,358.81" fill="#d40e0a"/>
<polygon points="435.27,350.38 439.11,351.17 439.32,365.58 435.50,364.70" fill="#dc7414"/>
<polygon points="439.11,351.17 443.01,351.98 443.20,366.47 439.32,365.58" fill="#dc7414"/>
<polygon points="443.01,351.98 446.96,352.80 447.12,367.37 443.20,366.47" fill="#dc7414"/>
<polygon points="446.96,352.80 450.96,353.62 451.10,368.28 447.12,367.37" fill="#dc7414"/>
<polygon points="450.96,353.62 455.02,354.46 455.13,369.20 451.10,368.28" fill="#dc7414"/>
<polygon points="455.02,354.46 459.12,355.31 459.21,370.14 455.13,369.20" fill="#dc7414"/>
<polygon points="459.12,355.31 463.28,356.17 463.35,371.09 459.21,370.14" fill="#dc7414"/>
<polygon points="463.28,356.17 467.49,357.04 467.53,372.05 463.35,371.09" fill="#dc7414"/>
<polygon points="467.49,357.04 471.76,357.92 471.77,373.02 467.53,372.05" fill="#dc7414"/>
<polygon points="471.76,357.92 476.07,358.81 476.06,374.00 471.77,373.02" fill="#dc7414"/>
<polygon points="476.07,358.81 480.44,359.71 480.40,375.00 476.06,374.00" fill="#dc7414"/>
<path d="M434.30 290.10L435.50 364.70" stroke="#000" stroke-width="1.00" fill="none" stroke-linecap="square"/>
<path d="M438.24 290.72L439.32 365.58M442.24 291.35L443.20 366.47M446.28 291.99L447.12 367.37M450.39 292.64L451.10 368.28M454.54 293.29L455.13 369.20M458.75 293.96L459.21 370.14M463.01 294.63L463.35 371.09M467.33 295.31L467.53 372.05M471.70 296.00L471.77 373.02M476.12 296.69L476.06 374.00M480.60 297.40L480.40 375.00" stroke="#000" stroke-width="1.50" fill="none" stroke-linecap="square"/>
<path d="M434.30 290.10L480.60 297.40M434.55 305.69L480.56 312.92M434.79 320.54L480.52 328.60M435.03 335.76L480.48 344.74M435.27 350.38L480.44 359.71M435.50 364.70L480.40 375.00" stroke="#000" stroke-width="0.90" fill="none" stroke-linecap="square"/>
<polygon points="480.60,297.40 486.56,296.84 486.48,312.50 480.56,312.92" fill="#dc7414"/>
<polygon points="486.56,296.84 492.93,296.24 492.80,312.06 486.48,312.50" fill="#d40e0a"/>
<polygon points="492.93,296.24 497.53,295.81 497.37,311.73 492.80,312.06" fill="#760c08"/>
<polygon points="497.53,295.81 503.55,295.25 503.34,311.30 497.37,311.73" fill="#d40e0a"/>
<polygon points="503.55,295.25 509.40,294.70 509.14,310.89 503.34,311.30" fill="#dc7414"/>
<polygon points="480.56,312.92 486.48,312.50 486.40,328.08 480.52,328.60" fill="#d40e0a"/>
<polygon points="486.48,312.50 492.80,312.06 492.67,327.53 486.40,328.08" fill="#d40e0a"/>
<polygon points="492.80,312.06 497.37,311.73 497.21,327.13 492.67,327.53" fill="#760c08"/>
<polygon points="497.37,311.73 503.34,311.30 503.14,326.60 497.21,327.13" fill="#d40e0a"/>
<polygon points="503.34,311.30 509.14,310.89 508.90,326.09 503.14,326.60" fill="#d40e0a"/>
<polygon points="480.52,328.60 486.40,328.08 486.31,344.02 480.48,344.74" fill="#d40e0a"/>
<polygon points="486.40,328.08 492.67,327.53 492.54,343.26 486.31,344.02" fill="#d40e0a"/>
<polygon points="492.67,327.53 497.21,327.13 497.05,342.71 492.54,343.26" fill="#760c08"/>
<polygon points="497.21,327.13 503.14,326.60 502.94,341.99 497.05,342.71" fill="#d40e0a"/>
<polygon points="503.14,326.60 508.90,326.09 508.66,341.29 502.94,341.99" fill="#d40e0a"/>
<polygon points="480.48,344.74 486.31,344.02 486.23,358.95 480.44,359.71" fill="#d40e0a"/>
<polygon points="486.31,344.02 492.54,343.26 492.42,358.14 486.23,358.95" fill="#d40e0a"/>
<polygon points="492.54,343.26 497.05,342.71 496.90,357.55 492.42,358.14" fill="#760c08"/>
<polygon points="497.05,342.71 502.94,341.99 502.75,356.78 496.90,357.55" fill="#d40e0a"/>
<polygon points="502.94,341.99 508.66,341.29 508.43,356.03 502.75,356.78" fill="#d40e0a"/>
<polygon points="480.44,359.71 486.23,358.95 486.15,374.11 480.40,375.00" fill="#dc7414"/>
<polygon points="486.23,358.95 492.42,358.14 492.30,373.16 486.15,374.11" fill="#d40e0a"/>
<polygon points="492.42,358.14 496.90,357.55 496.75,372.47 492.30,373.16" fill="#760c08"/>
<polygon points="496.90,357.55 502.75,356.78 502.56,371.57 496.75,372.47" fill="#d40e0a"/>
<polygon points="502.75,356.78 508.43,356.03 508.20,370.70 502.56,371.57" fill="#dc7414"/>
<path d="M480.60 297.40L480.40 375.00" stroke="#000" stroke-width="1.50" fill="none" stroke-linecap="square"/>
<path d="M486.56 296.84L486.15 374.11M503.55 295.25L502.56 371.57" stroke="#000" stroke-width="1.45" fill="none" stroke-linecap="square"/>
<path d="M492.93 296.24L492.30 373.16M497.53 295.81L496.75 372.47" stroke="#000" stroke-width="1.25" fill="none" stroke-linecap="square"/>
<path d="M509.40 294.70L508.20 370.70" stroke="#000" stroke-width="1.00" fill="none" stroke-linecap="square"/>
<path d="M480.60 297.40L509.40 294.70M480.56 312.92L509.14 310.89M480.52 328.60L508.90 326.09M480.48 344.74L508.66 341.29M480.44 359.71L508.43 356.03M480.40 375.00L508.20 370.70" stroke="#000" stroke-width="0.90" fill="none" stroke-linecap="square"/>
<path d="M434.57 307.16L438.66 319.75M442.45 308.42L446.61 321.14M434.81 322.00L438.88 335.05M438.70 322.69L442.80 335.82M446.64 324.11L450.81 337.38M450.69 324.83L454.89 338.18M435.06 337.27L439.09 349.65M442.99 350.46L446.81 339.61M450.84 340.41L455.00 352.93M454.91 341.21L459.11 353.78M439.14 352.64L443.18 364.99" stroke="#000" stroke-opacity="0.3" stroke-width="1.2" fill="none"/>
<path d="M486.55 298.41L492.81 310.47M497.39 310.14L503.53 296.85M486.24 357.40L492.53 344.80M497.04 344.25L502.77 355.25M486.16 372.57L492.41 359.66" stroke="#000" stroke-opacity="0.3" stroke-width="1.1" fill="none"/>
<path d="M434.30 290.20L480.60 297.50L509.40 294.80" stroke="#000" stroke-width="1.2" fill="none" stroke-linejoin="round"/>
<polygon points="434.30,290.10 463.00,287.00 509.40,294.70 508.20,370.70 480.40,375.00 435.50,364.70" fill="none" stroke="#000" stroke-width="0.8" stroke-linejoin="round"/>
</g>
<g filter="url(#bl)">
<rect x="568.40" y="82.00" width="13.40" height="20.35" fill="#fa0606"/>
<rect x="568.40" y="102.25" width="13.40" height="20.35" fill="#fc7a04"/>
<rect x="568.40" y="122.50" width="13.40" height="20.35" fill="#fee408"/>
<rect x="568.40" y="142.75" width="13.40" height="20.35" fill="#acf014"/>
<rect x="568.40" y="163.00" width="13.40" height="20.35" fill="#1ce41c"/>
<rect x="568.40" y="183.25" width="13.40" height="20.35" fill="#0ce040"/>
<rect x="568.40" y="203.50" width="13.40" height="20.35" fill="#0cecac"/>
<rect x="568.40" y="223.75" width="13.40" height="20.35" fill="#0ce4fc"/>
<rect x="568.40" y="244.00" width="13.40" height="20.35" fill="#0c70f8"/>
<rect x="568.40" y="264.25" width="13.40" height="20.35" fill="#0408f0"/>
<rect x="568.40" y="82.00" width="13.40" height="202.50" fill="url(#sh)"/>
<path d="M568.40 82.00H581.80" stroke="#000" stroke-opacity="0.7" stroke-width="1.0"/>
<path d="M568.40 102.25H581.80" stroke="#000" stroke-opacity="0.7" stroke-width="1.0"/>
<path d="M568.40 122.50H581.80" stroke="#000" stroke-opacity="0.7" stroke-width="1.0"/>
<path d="M568.40 142.75H581.80" stroke="#000" stroke-opacity="0.7" stroke-width="1.0"/>
<path d="M568.40 163.00H581.80" stroke="#000" stroke-opacity="0.7" stroke-width="1.0"/>
<path d="M568.40 183.25H581.80" stroke="#000" stroke-opacity="0.7" stroke-width="1.0"/>
<path d="M568.40 203.50H581.80" stroke="#000" stroke-opacity="0.7" stroke-width="1.0"/>
<path d="M568.40 223.75H581.80" stroke="#000" stroke-opacity="0.7" stroke-width="1.0"/>
<path d="M568.40 244.00H581.80" stroke="#000" stroke-opacity="0.7" stroke-width="1.0"/>
<path d="M568.40 264.25H581.80" stroke="#000" stroke-opacity="0.7" stroke-width="1.0"/>
<path d="M568.40 284.50H581.80" stroke="#000" stroke-opacity="0.7" stroke-width="1.0"/>
</g>
<g font-family="'Liberation Sans', sans-serif" font-size="8.4" fill="#2a2a2a">
<text x="585.0" y="86.70" textLength="13.8" lengthAdjust="spacingAndGlyphs">800</text>
<text x="585.0" y="106.95" textLength="13.8" lengthAdjust="spacingAndGlyphs">731</text>
<text x="585.0" y="127.20" textLength="13.8" lengthAdjust="spacingAndGlyphs">661</text>
<text x="585.0" y="147.45" textLength="13.8" lengthAdjust="spacingAndGlyphs">592</text>
<text x="585.0" y="167.70" textLength="13.8" lengthAdjust="spacingAndGlyphs">523</text>
<text x="585.0" y="187.95" textLength="13.8" lengthAdjust="spacingAndGlyphs">453</text>
<text x="585.0" y="208.20" textLength="13.8" lengthAdjust="spacingAndGlyphs">384</text>
<text x="585.0" y="228.45" textLength="13.8" lengthAdjust="spacingAndGlyphs">315</text>
<text x="585.0" y="248.70" textLength="13.8" lengthAdjust="spacingAndGlyphs">246</text>
<text x="585.0" y="268.95" textLength="13.8" lengthAdjust="spacingAndGlyphs">176</text>
<text x="585.0" y="289.20" textLength="13.8" lengthAdjust="spacingAndGlyphs">107</text>
</g>
<g font-family="'Liberation Sans', sans-serif" font-weight="bold" font-size="8.9" fill="#000">
<text x="145.00" y="49.70" textLength="29.20" lengthAdjust="spacingAndGlyphs">50 Days</text>
<text x="246.00" y="50.60" textLength="34.20" lengthAdjust="spacingAndGlyphs">100 Days</text>
<text x="344.80" y="50.60" textLength="34.00" lengthAdjust="spacingAndGlyphs">150 Days</text>
<text x="445.80" y="50.60" textLength="34.40" lengthAdjust="spacingAndGlyphs">200 Days</text>
<text x="561.80" y="50.80" textLength="33.60" lengthAdjust="spacingAndGlyphs">Temp. <tspan font-size="5" dy="-2.6">0</tspan><tspan dy="2.6">F</tspan></text>
<text x="38.90" y="110.70" textLength="54.10" lengthAdjust="spacingAndGlyphs">Temp = 600 <tspan font-size="5" dy="-2.6">0</tspan><tspan dy="2.6">F</tspan></text>
<text x="38.90" y="218.50" textLength="54.10" lengthAdjust="spacingAndGlyphs">Temp = 700 <tspan font-size="5" dy="-2.6">0</tspan><tspan dy="2.6">F</tspan></text>
<text x="41.1" y="327.4" font-size="8" textLength="53.9" lengthAdjust="spacingAndGlyphs">Temp = 800 °F</text>
</g>
<g font-family="'Liberation Serif', serif" font-size="16" fill="#000">
<text x="58.5" y="408.6" textLength="519.2" lengthAdjust="spacing">Figure 38: Formation temperature profile for heater temperature = 600<tspan font-size="10.8" dy="-7.4">0</tspan><tspan dy="7.4">F</tspan>, 700<tspan font-size="10.8" dy="-7.4">0</tspan><tspan dy="7.4">F</tspan>,</text>
<text x="299.8" y="426.8" textLength="38.2" lengthAdjust="spacing">800<tspan font-size="10.8" dy="-7.4">0</tspan><tspan dy="7.4">F</tspan></text>
</g>
</svg>
</body>
</html>
